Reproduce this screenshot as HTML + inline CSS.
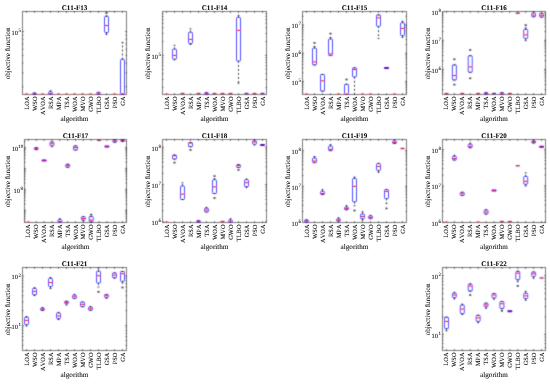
<!DOCTYPE html>
<html><head><meta charset="utf-8"><title>Boxplots</title>
<style>html,body{margin:0;padding:0;background:#fff;width:550px;height:384px;overflow:hidden}svg{display:block}text{font-kerning:none;text-rendering:geometricPrecision;stroke:#000;stroke-width:0.04px}</style>
</head><body><div id="w"><svg width="550" height="384" viewBox="0 0 550 384" font-family='"Liberation Serif", "Times New Roman", serif' fill="#000"><defs><filter id="bl" filterUnits="userSpaceOnUse" x="0" y="0" width="550" height="384"><feConvolveMatrix order="3" kernelMatrix="0.02560 0.10880 0.02560 0.10880 0.46240 0.10880 0.02560 0.10880 0.02560" divisor="1" edgeMode="none"/></filter></defs><rect width="550" height="384" fill="#fff"/><g filter="url(#bl)"><rect x="22.5" y="11.5" width="104" height="83" fill="none" stroke="#7a7a7a" stroke-width="1"/><g stroke="#303030" stroke-width="0.8"><line x1="22.1" y1="86.82" x2="23.4" y2="86.82"/><line x1="126.9" y1="86.82" x2="125.6" y2="86.82"/><line x1="22.1" y1="72.91" x2="23.4" y2="72.91"/><line x1="126.9" y1="72.91" x2="125.6" y2="72.91"/><line x1="22.1" y1="63.04" x2="23.4" y2="63.04"/><line x1="126.9" y1="63.04" x2="125.6" y2="63.04"/><line x1="22.1" y1="55.38" x2="23.4" y2="55.38"/><line x1="126.9" y1="55.38" x2="125.6" y2="55.38"/><line x1="22.1" y1="49.13" x2="23.4" y2="49.13"/><line x1="126.9" y1="49.13" x2="125.6" y2="49.13"/><line x1="22.1" y1="43.84" x2="23.4" y2="43.84"/><line x1="126.9" y1="43.84" x2="125.6" y2="43.84"/><line x1="22.1" y1="39.26" x2="23.4" y2="39.26"/><line x1="126.9" y1="39.26" x2="125.6" y2="39.26"/><line x1="22.1" y1="35.21" x2="23.4" y2="35.21"/><line x1="126.9" y1="35.21" x2="125.6" y2="35.21"/><line x1="22.1" y1="31.6" x2="23.8" y2="31.6"/><line x1="126.9" y1="31.6" x2="125.2" y2="31.6"/><line x1="26.5" y1="94.9" x2="26.5" y2="93.2"/><line x1="26.5" y1="11.1" x2="26.5" y2="12.8"/><line x1="34.5" y1="94.9" x2="34.5" y2="93.2"/><line x1="34.5" y1="11.1" x2="34.5" y2="12.8"/><line x1="42.5" y1="94.9" x2="42.5" y2="93.2"/><line x1="42.5" y1="11.1" x2="42.5" y2="12.8"/><line x1="50.5" y1="94.9" x2="50.5" y2="93.2"/><line x1="50.5" y1="11.1" x2="50.5" y2="12.8"/><line x1="58.5" y1="94.9" x2="58.5" y2="93.2"/><line x1="58.5" y1="11.1" x2="58.5" y2="12.8"/><line x1="66.5" y1="94.9" x2="66.5" y2="93.2"/><line x1="66.5" y1="11.1" x2="66.5" y2="12.8"/><line x1="74.5" y1="94.9" x2="74.5" y2="93.2"/><line x1="74.5" y1="11.1" x2="74.5" y2="12.8"/><line x1="82.5" y1="94.9" x2="82.5" y2="93.2"/><line x1="82.5" y1="11.1" x2="82.5" y2="12.8"/><line x1="90.5" y1="94.9" x2="90.5" y2="93.2"/><line x1="90.5" y1="11.1" x2="90.5" y2="12.8"/><line x1="98.5" y1="94.9" x2="98.5" y2="93.2"/><line x1="98.5" y1="11.1" x2="98.5" y2="12.8"/><line x1="106.5" y1="94.9" x2="106.5" y2="93.2"/><line x1="106.5" y1="11.1" x2="106.5" y2="12.8"/><line x1="114.5" y1="94.9" x2="114.5" y2="93.2"/><line x1="114.5" y1="11.1" x2="114.5" y2="12.8"/><line x1="122.5" y1="94.9" x2="122.5" y2="93.2"/><line x1="122.5" y1="11.1" x2="122.5" y2="12.8"/></g><line x1="24.5" y1="94" x2="28.5" y2="94" stroke="#ff4a5a" stroke-width="0.9"/><rect x="32.5" y="93" width="4" height="1.5" rx="0.8" fill="none" stroke="#0000ff" stroke-width="0.7"/><line x1="32.9" y1="94" x2="36.1" y2="94" stroke="#ff0000" stroke-width="1"/><line x1="33.6" y1="93" x2="35.4" y2="93" stroke="#111" stroke-width="0.8"/><line x1="40.5" y1="94" x2="44.5" y2="94" stroke="#ff4a5a" stroke-width="0.9"/><line x1="50.5" y1="91.8" x2="50.5" y2="90.8" stroke="#000" stroke-dasharray="1.8 2.2" stroke-width="0.8"/><rect x="48.5" y="91.8" width="4" height="2.4" rx="0.8" fill="none" stroke="#0000ff" stroke-width="0.7"/><line x1="48.9" y1="93.5" x2="52.1" y2="93.5" stroke="#ff0000" stroke-width="1"/><line x1="49.6" y1="90.8" x2="51.4" y2="90.8" stroke="#111" stroke-width="0.8"/><line x1="56.5" y1="94" x2="60.5" y2="94" stroke="#ff4a5a" stroke-width="0.9"/><line x1="64.5" y1="94" x2="68.5" y2="94" stroke="#ff4a5a" stroke-width="0.9"/><line x1="72.5" y1="94" x2="76.5" y2="94" stroke="#ff4a5a" stroke-width="0.9"/><line x1="80.5" y1="94" x2="84.5" y2="94" stroke="#ff4a5a" stroke-width="0.9"/><line x1="88.5" y1="94" x2="92.5" y2="94" stroke="#ff4a5a" stroke-width="0.9"/><rect x="96.5" y="92.4" width="4" height="2.1" rx="0.8" fill="none" stroke="#0000ff" stroke-width="0.7"/><line x1="96.9" y1="94" x2="100.1" y2="94" stroke="#ff0000" stroke-width="1"/><line x1="97.6" y1="92.4" x2="99.4" y2="92.4" stroke="#111" stroke-width="0.8"/><line x1="106.5" y1="16.5" x2="106.5" y2="15.8" stroke="#000" stroke-dasharray="1.8 2.2" stroke-width="0.8"/><line x1="106.5" y1="32.5" x2="106.5" y2="34.4" stroke="#000" stroke-dasharray="1.8 2.2" stroke-width="0.8"/><rect x="104.5" y="16.5" width="4" height="16" rx="0.8" fill="none" stroke="#0000ff" stroke-width="0.7"/><line x1="104.9" y1="25.5" x2="108.1" y2="25.5" stroke="#ff0000" stroke-width="1"/><line x1="105.6" y1="15.8" x2="107.4" y2="15.8" stroke="#111" stroke-width="0.8"/><line x1="105.6" y1="34.4" x2="107.4" y2="34.4" stroke="#111" stroke-width="0.8"/><rect x="105.5" y="12.2" width="2" height="1.6" fill="#333"/><line x1="112.5" y1="94" x2="116.5" y2="94" stroke="#ff4a5a" stroke-width="0.9"/><line x1="122.5" y1="59.4" x2="122.5" y2="42.5" stroke="#000" stroke-dasharray="1.8 2.2" stroke-width="0.8"/><rect x="120.5" y="59.4" width="4" height="35.1" rx="0.8" fill="none" stroke="#0000ff" stroke-width="0.7"/><line x1="120.9" y1="94" x2="124.1" y2="94" stroke="#ff0000" stroke-width="1"/><line x1="121.6" y1="42.5" x2="123.4" y2="42.5" stroke="#111" stroke-width="0.8"/><rect x="162.5" y="11.5" width="104" height="83" fill="none" stroke="#7a7a7a" stroke-width="1"/><g stroke="#303030" stroke-width="0.8"><line x1="162.1" y1="87.55" x2="163.4" y2="87.55"/><line x1="266.9" y1="87.55" x2="265.6" y2="87.55"/><line x1="162.1" y1="79.45" x2="163.4" y2="79.45"/><line x1="266.9" y1="79.45" x2="265.6" y2="79.45"/><line x1="162.1" y1="73.71" x2="163.4" y2="73.71"/><line x1="266.9" y1="73.71" x2="265.6" y2="73.71"/><line x1="162.1" y1="69.25" x2="163.4" y2="69.25"/><line x1="266.9" y1="69.25" x2="265.6" y2="69.25"/><line x1="162.1" y1="65.61" x2="163.4" y2="65.61"/><line x1="266.9" y1="65.61" x2="265.6" y2="65.61"/><line x1="162.1" y1="62.53" x2="163.4" y2="62.53"/><line x1="266.9" y1="62.53" x2="265.6" y2="62.53"/><line x1="162.1" y1="59.86" x2="163.4" y2="59.86"/><line x1="266.9" y1="59.86" x2="265.6" y2="59.86"/><line x1="162.1" y1="57.5" x2="163.4" y2="57.5"/><line x1="266.9" y1="57.5" x2="265.6" y2="57.5"/><line x1="162.1" y1="55.4" x2="163.8" y2="55.4"/><line x1="266.9" y1="55.4" x2="265.2" y2="55.4"/><line x1="162.1" y1="41.55" x2="163.4" y2="41.55"/><line x1="266.9" y1="41.55" x2="265.6" y2="41.55"/><line x1="162.1" y1="33.45" x2="163.4" y2="33.45"/><line x1="266.9" y1="33.45" x2="265.6" y2="33.45"/><line x1="162.1" y1="27.71" x2="163.4" y2="27.71"/><line x1="266.9" y1="27.71" x2="265.6" y2="27.71"/><line x1="162.1" y1="23.25" x2="163.4" y2="23.25"/><line x1="266.9" y1="23.25" x2="265.6" y2="23.25"/><line x1="162.1" y1="19.61" x2="163.4" y2="19.61"/><line x1="266.9" y1="19.61" x2="265.6" y2="19.61"/><line x1="162.1" y1="16.53" x2="163.4" y2="16.53"/><line x1="266.9" y1="16.53" x2="265.6" y2="16.53"/><line x1="162.1" y1="13.86" x2="163.4" y2="13.86"/><line x1="266.9" y1="13.86" x2="265.6" y2="13.86"/><line x1="166.5" y1="94.9" x2="166.5" y2="93.2"/><line x1="166.5" y1="11.1" x2="166.5" y2="12.8"/><line x1="174.5" y1="94.9" x2="174.5" y2="93.2"/><line x1="174.5" y1="11.1" x2="174.5" y2="12.8"/><line x1="182.5" y1="94.9" x2="182.5" y2="93.2"/><line x1="182.5" y1="11.1" x2="182.5" y2="12.8"/><line x1="190.5" y1="94.9" x2="190.5" y2="93.2"/><line x1="190.5" y1="11.1" x2="190.5" y2="12.8"/><line x1="198.5" y1="94.9" x2="198.5" y2="93.2"/><line x1="198.5" y1="11.1" x2="198.5" y2="12.8"/><line x1="206.5" y1="94.9" x2="206.5" y2="93.2"/><line x1="206.5" y1="11.1" x2="206.5" y2="12.8"/><line x1="214.5" y1="94.9" x2="214.5" y2="93.2"/><line x1="214.5" y1="11.1" x2="214.5" y2="12.8"/><line x1="222.5" y1="94.9" x2="222.5" y2="93.2"/><line x1="222.5" y1="11.1" x2="222.5" y2="12.8"/><line x1="230.5" y1="94.9" x2="230.5" y2="93.2"/><line x1="230.5" y1="11.1" x2="230.5" y2="12.8"/><line x1="238.5" y1="94.9" x2="238.5" y2="93.2"/><line x1="238.5" y1="11.1" x2="238.5" y2="12.8"/><line x1="246.5" y1="94.9" x2="246.5" y2="93.2"/><line x1="246.5" y1="11.1" x2="246.5" y2="12.8"/><line x1="254.5" y1="94.9" x2="254.5" y2="93.2"/><line x1="254.5" y1="11.1" x2="254.5" y2="12.8"/><line x1="262.5" y1="94.9" x2="262.5" y2="93.2"/><line x1="262.5" y1="11.1" x2="262.5" y2="12.8"/></g><line x1="164.5" y1="94" x2="168.5" y2="94" stroke="#ff4a5a" stroke-width="0.9"/><line x1="174.5" y1="49.2" x2="174.5" y2="45.4" stroke="#000" stroke-dasharray="1.8 2.2" stroke-width="0.8"/><line x1="174.5" y1="59.1" x2="174.5" y2="59.8" stroke="#000" stroke-dasharray="1.8 2.2" stroke-width="0.8"/><rect x="172.5" y="49.2" width="4" height="9.9" rx="0.8" fill="none" stroke="#0000ff" stroke-width="0.7"/><line x1="172.9" y1="55.4" x2="176.1" y2="55.4" stroke="#ff0000" stroke-width="1"/><line x1="173.6" y1="45.4" x2="175.4" y2="45.4" stroke="#111" stroke-width="0.8"/><line x1="173.6" y1="59.8" x2="175.4" y2="59.8" stroke="#111" stroke-width="0.8"/><line x1="180.5" y1="93.5" x2="184.5" y2="93.5" stroke="#c8124e" stroke-width="1.2"/><line x1="190.5" y1="32.3" x2="190.5" y2="28.9" stroke="#000" stroke-dasharray="1.8 2.2" stroke-width="0.8"/><line x1="190.5" y1="43.4" x2="190.5" y2="44.5" stroke="#000" stroke-dasharray="1.8 2.2" stroke-width="0.8"/><rect x="188.5" y="32.3" width="4" height="11.1" rx="0.8" fill="none" stroke="#0000ff" stroke-width="0.7"/><line x1="188.9" y1="39.4" x2="192.1" y2="39.4" stroke="#ff0000" stroke-width="1"/><line x1="189.6" y1="28.9" x2="191.4" y2="28.9" stroke="#111" stroke-width="0.8"/><line x1="189.6" y1="44.5" x2="191.4" y2="44.5" stroke="#111" stroke-width="0.8"/><line x1="196.5" y1="93.5" x2="200.5" y2="93.5" stroke="#c8124e" stroke-width="1.2"/><rect x="204.5" y="92.6" width="4" height="1.9" rx="0.8" fill="none" stroke="#0000ff" stroke-width="0.7"/><line x1="204.9" y1="93.8" x2="208.1" y2="93.8" stroke="#ff0000" stroke-width="1"/><line x1="205.6" y1="92.6" x2="207.4" y2="92.6" stroke="#111" stroke-width="0.8"/><line x1="212.5" y1="93.5" x2="216.5" y2="93.5" stroke="#c8124e" stroke-width="1.2"/><line x1="220.5" y1="93.5" x2="224.5" y2="93.5" stroke="#c8124e" stroke-width="1.2"/><line x1="228.5" y1="93.5" x2="232.5" y2="93.5" stroke="#c8124e" stroke-width="1.2"/><line x1="238.5" y1="17.4" x2="238.5" y2="15.3" stroke="#000" stroke-dasharray="1.8 2.2" stroke-width="0.8"/><line x1="238.5" y1="61" x2="238.5" y2="83.2" stroke="#000" stroke-dasharray="1.8 2.2" stroke-width="0.8"/><rect x="236.5" y="17.4" width="4" height="43.6" rx="0.8" fill="none" stroke="#0000ff" stroke-width="0.7"/><line x1="236.9" y1="30.4" x2="240.1" y2="30.4" stroke="#ff0000" stroke-width="1"/><line x1="237.6" y1="15.3" x2="239.4" y2="15.3" stroke="#111" stroke-width="0.8"/><line x1="237.6" y1="83.2" x2="239.4" y2="83.2" stroke="#111" stroke-width="0.8"/><line x1="244.5" y1="93.5" x2="248.5" y2="93.5" stroke="#741a86" stroke-width="1.3"/><line x1="252.5" y1="93.5" x2="256.5" y2="93.5" stroke="#c8124e" stroke-width="1.2"/><line x1="260.5" y1="93.5" x2="264.5" y2="93.5" stroke="#741a86" stroke-width="1.3"/><rect x="302.5" y="11.5" width="104" height="83" fill="none" stroke="#7a7a7a" stroke-width="1"/><g stroke="#303030" stroke-width="0.8"><line x1="302.1" y1="92.66" x2="303.4" y2="92.66"/><line x1="406.9" y1="92.66" x2="405.6" y2="92.66"/><line x1="302.1" y1="89.92" x2="303.4" y2="89.92"/><line x1="406.9" y1="89.92" x2="405.6" y2="89.92"/><line x1="302.1" y1="87.68" x2="303.4" y2="87.68"/><line x1="406.9" y1="87.68" x2="405.6" y2="87.68"/><line x1="302.1" y1="85.78" x2="303.4" y2="85.78"/><line x1="406.9" y1="85.78" x2="405.6" y2="85.78"/><line x1="302.1" y1="84.14" x2="303.4" y2="84.14"/><line x1="406.9" y1="84.14" x2="405.6" y2="84.14"/><line x1="302.1" y1="82.69" x2="303.4" y2="82.69"/><line x1="406.9" y1="82.69" x2="405.6" y2="82.69"/><line x1="302.1" y1="81.4" x2="303.8" y2="81.4"/><line x1="406.9" y1="81.4" x2="405.2" y2="81.4"/><line x1="302.1" y1="72.88" x2="303.4" y2="72.88"/><line x1="406.9" y1="72.88" x2="405.6" y2="72.88"/><line x1="302.1" y1="67.9" x2="303.4" y2="67.9"/><line x1="406.9" y1="67.9" x2="405.6" y2="67.9"/><line x1="302.1" y1="64.36" x2="303.4" y2="64.36"/><line x1="406.9" y1="64.36" x2="405.6" y2="64.36"/><line x1="302.1" y1="61.62" x2="303.4" y2="61.62"/><line x1="406.9" y1="61.62" x2="405.6" y2="61.62"/><line x1="302.1" y1="59.38" x2="303.4" y2="59.38"/><line x1="406.9" y1="59.38" x2="405.6" y2="59.38"/><line x1="302.1" y1="57.48" x2="303.4" y2="57.48"/><line x1="406.9" y1="57.48" x2="405.6" y2="57.48"/><line x1="302.1" y1="55.84" x2="303.4" y2="55.84"/><line x1="406.9" y1="55.84" x2="405.6" y2="55.84"/><line x1="302.1" y1="54.39" x2="303.4" y2="54.39"/><line x1="406.9" y1="54.39" x2="405.6" y2="54.39"/><line x1="302.1" y1="53.1" x2="303.8" y2="53.1"/><line x1="406.9" y1="53.1" x2="405.2" y2="53.1"/><line x1="302.1" y1="44.58" x2="303.4" y2="44.58"/><line x1="406.9" y1="44.58" x2="405.6" y2="44.58"/><line x1="302.1" y1="39.6" x2="303.4" y2="39.6"/><line x1="406.9" y1="39.6" x2="405.6" y2="39.6"/><line x1="302.1" y1="36.06" x2="303.4" y2="36.06"/><line x1="406.9" y1="36.06" x2="405.6" y2="36.06"/><line x1="302.1" y1="33.32" x2="303.4" y2="33.32"/><line x1="406.9" y1="33.32" x2="405.6" y2="33.32"/><line x1="302.1" y1="31.08" x2="303.4" y2="31.08"/><line x1="406.9" y1="31.08" x2="405.6" y2="31.08"/><line x1="302.1" y1="29.18" x2="303.4" y2="29.18"/><line x1="406.9" y1="29.18" x2="405.6" y2="29.18"/><line x1="302.1" y1="27.54" x2="303.4" y2="27.54"/><line x1="406.9" y1="27.54" x2="405.6" y2="27.54"/><line x1="302.1" y1="26.09" x2="303.4" y2="26.09"/><line x1="406.9" y1="26.09" x2="405.6" y2="26.09"/><line x1="302.1" y1="24.8" x2="303.8" y2="24.8"/><line x1="406.9" y1="24.8" x2="405.2" y2="24.8"/><line x1="302.1" y1="16.28" x2="303.4" y2="16.28"/><line x1="406.9" y1="16.28" x2="405.6" y2="16.28"/><line x1="306.5" y1="94.9" x2="306.5" y2="93.2"/><line x1="306.5" y1="11.1" x2="306.5" y2="12.8"/><line x1="314.5" y1="94.9" x2="314.5" y2="93.2"/><line x1="314.5" y1="11.1" x2="314.5" y2="12.8"/><line x1="322.5" y1="94.9" x2="322.5" y2="93.2"/><line x1="322.5" y1="11.1" x2="322.5" y2="12.8"/><line x1="330.5" y1="94.9" x2="330.5" y2="93.2"/><line x1="330.5" y1="11.1" x2="330.5" y2="12.8"/><line x1="338.5" y1="94.9" x2="338.5" y2="93.2"/><line x1="338.5" y1="11.1" x2="338.5" y2="12.8"/><line x1="346.5" y1="94.9" x2="346.5" y2="93.2"/><line x1="346.5" y1="11.1" x2="346.5" y2="12.8"/><line x1="354.5" y1="94.9" x2="354.5" y2="93.2"/><line x1="354.5" y1="11.1" x2="354.5" y2="12.8"/><line x1="362.5" y1="94.9" x2="362.5" y2="93.2"/><line x1="362.5" y1="11.1" x2="362.5" y2="12.8"/><line x1="370.5" y1="94.9" x2="370.5" y2="93.2"/><line x1="370.5" y1="11.1" x2="370.5" y2="12.8"/><line x1="378.5" y1="94.9" x2="378.5" y2="93.2"/><line x1="378.5" y1="11.1" x2="378.5" y2="12.8"/><line x1="386.5" y1="94.9" x2="386.5" y2="93.2"/><line x1="386.5" y1="11.1" x2="386.5" y2="12.8"/><line x1="394.5" y1="94.9" x2="394.5" y2="93.2"/><line x1="394.5" y1="11.1" x2="394.5" y2="12.8"/><line x1="402.5" y1="94.9" x2="402.5" y2="93.2"/><line x1="402.5" y1="11.1" x2="402.5" y2="12.8"/></g><line x1="304.5" y1="94" x2="308.5" y2="94" stroke="#ff4a5a" stroke-width="0.9"/><line x1="314.5" y1="48.2" x2="314.5" y2="46.5" stroke="#000" stroke-dasharray="1.8 2.2" stroke-width="0.8"/><rect x="312.5" y="48.2" width="4" height="16.7" rx="0.8" fill="none" stroke="#0000ff" stroke-width="0.7"/><line x1="312.9" y1="61.9" x2="316.1" y2="61.9" stroke="#ff0000" stroke-width="1"/><line x1="313.6" y1="46.5" x2="315.4" y2="46.5" stroke="#111" stroke-width="0.8"/><line x1="313.6" y1="64.9" x2="315.4" y2="64.9" stroke="#111" stroke-width="0.8"/><rect x="313.5" y="42.1" width="2" height="1.6" fill="#333"/><rect x="320.5" y="74.5" width="4" height="16.7" rx="0.8" fill="none" stroke="#0000ff" stroke-width="0.7"/><line x1="320.9" y1="80.8" x2="324.1" y2="80.8" stroke="#ff0000" stroke-width="1"/><line x1="321.6" y1="74.5" x2="323.4" y2="74.5" stroke="#111" stroke-width="0.8"/><line x1="321.6" y1="91.2" x2="323.4" y2="91.2" stroke="#111" stroke-width="0.8"/><line x1="330.5" y1="39.1" x2="330.5" y2="37.5" stroke="#000" stroke-dasharray="1.8 2.2" stroke-width="0.8"/><rect x="328.5" y="39.1" width="4" height="16.4" rx="0.8" fill="none" stroke="#0000ff" stroke-width="0.7"/><line x1="328.9" y1="53.9" x2="332.1" y2="53.9" stroke="#ff0000" stroke-width="1"/><line x1="329.6" y1="37.5" x2="331.4" y2="37.5" stroke="#111" stroke-width="0.8"/><line x1="329.6" y1="55.5" x2="331.4" y2="55.5" stroke="#111" stroke-width="0.8"/><rect x="329.5" y="32.8" width="2" height="1.6" fill="#333"/><line x1="336.5" y1="94" x2="340.5" y2="94" stroke="#ff4a5a" stroke-width="0.9"/><rect x="344.5" y="84.3" width="4" height="10.2" rx="0.8" fill="none" stroke="#0000ff" stroke-width="0.7"/><line x1="344.9" y1="94.3" x2="348.1" y2="94.3" stroke="#ff0000" stroke-width="1"/><line x1="345.6" y1="84.3" x2="347.4" y2="84.3" stroke="#111" stroke-width="0.8"/><rect x="345.5" y="78.7" width="2" height="1.6" fill="#333"/><line x1="354.5" y1="76.9" x2="354.5" y2="94.5" stroke="#000" stroke-dasharray="1.8 2.2" stroke-width="0.8"/><rect x="352.5" y="67.8" width="4" height="9.1" rx="0.8" fill="none" stroke="#0000ff" stroke-width="0.7"/><line x1="352.9" y1="69.5" x2="356.1" y2="69.5" stroke="#ff0000" stroke-width="1"/><line x1="353.6" y1="67.8" x2="355.4" y2="67.8" stroke="#111" stroke-width="0.8"/><line x1="360.5" y1="94" x2="364.5" y2="94" stroke="#ff4a5a" stroke-width="0.9"/><line x1="368.5" y1="94" x2="372.5" y2="94" stroke="#ff4a5a" stroke-width="0.9"/><line x1="378.5" y1="26.3" x2="378.5" y2="38.4" stroke="#000" stroke-dasharray="1.8 2.2" stroke-width="0.8"/><rect x="376.5" y="14.9" width="4" height="11.4" rx="0.8" fill="none" stroke="#0000ff" stroke-width="0.7"/><line x1="376.9" y1="17.9" x2="380.1" y2="17.9" stroke="#ff0000" stroke-width="1"/><line x1="377.6" y1="14.9" x2="379.4" y2="14.9" stroke="#111" stroke-width="0.8"/><line x1="377.6" y1="38.4" x2="379.4" y2="38.4" stroke="#111" stroke-width="0.8"/><rect x="384" y="67" width="5" height="2" rx="1" fill="#0000ff"/><line x1="385" y1="68" x2="388" y2="68" stroke="#ff0000" stroke-width="1"/><line x1="392.5" y1="94" x2="396.5" y2="94" stroke="#ff4a5a" stroke-width="0.9"/><line x1="402.5" y1="22.9" x2="402.5" y2="21.3" stroke="#000" stroke-dasharray="1.8 2.2" stroke-width="0.8"/><line x1="402.5" y1="35.5" x2="402.5" y2="37.4" stroke="#000" stroke-dasharray="1.8 2.2" stroke-width="0.8"/><rect x="400.5" y="22.9" width="4" height="12.6" rx="0.8" fill="none" stroke="#0000ff" stroke-width="0.7"/><line x1="400.9" y1="28.4" x2="404.1" y2="28.4" stroke="#ff0000" stroke-width="1"/><line x1="401.6" y1="21.3" x2="403.4" y2="21.3" stroke="#111" stroke-width="0.8"/><line x1="401.6" y1="37.4" x2="403.4" y2="37.4" stroke="#111" stroke-width="0.8"/><rect x="442.5" y="11.5" width="103" height="83" fill="none" stroke="#7a7a7a" stroke-width="1"/><g stroke="#303030" stroke-width="0.8"><line x1="442.1" y1="89.74" x2="443.4" y2="89.74"/><line x1="545.9" y1="89.74" x2="544.6" y2="89.74"/><line x1="442.1" y1="84.62" x2="443.4" y2="84.62"/><line x1="545.9" y1="84.62" x2="544.6" y2="84.62"/><line x1="442.1" y1="80.98" x2="443.4" y2="80.98"/><line x1="545.9" y1="80.98" x2="544.6" y2="80.98"/><line x1="442.1" y1="78.16" x2="443.4" y2="78.16"/><line x1="545.9" y1="78.16" x2="544.6" y2="78.16"/><line x1="442.1" y1="75.86" x2="443.4" y2="75.86"/><line x1="545.9" y1="75.86" x2="544.6" y2="75.86"/><line x1="442.1" y1="73.91" x2="443.4" y2="73.91"/><line x1="545.9" y1="73.91" x2="544.6" y2="73.91"/><line x1="442.1" y1="72.22" x2="443.4" y2="72.22"/><line x1="545.9" y1="72.22" x2="544.6" y2="72.22"/><line x1="442.1" y1="70.73" x2="443.4" y2="70.73"/><line x1="545.9" y1="70.73" x2="544.6" y2="70.73"/><line x1="442.1" y1="69.4" x2="443.8" y2="69.4"/><line x1="545.9" y1="69.4" x2="544.2" y2="69.4"/><line x1="442.1" y1="60.64" x2="443.4" y2="60.64"/><line x1="545.9" y1="60.64" x2="544.6" y2="60.64"/><line x1="442.1" y1="55.52" x2="443.4" y2="55.52"/><line x1="545.9" y1="55.52" x2="544.6" y2="55.52"/><line x1="442.1" y1="51.88" x2="443.4" y2="51.88"/><line x1="545.9" y1="51.88" x2="544.6" y2="51.88"/><line x1="442.1" y1="49.06" x2="443.4" y2="49.06"/><line x1="545.9" y1="49.06" x2="544.6" y2="49.06"/><line x1="442.1" y1="46.76" x2="443.4" y2="46.76"/><line x1="545.9" y1="46.76" x2="544.6" y2="46.76"/><line x1="442.1" y1="44.81" x2="443.4" y2="44.81"/><line x1="545.9" y1="44.81" x2="544.6" y2="44.81"/><line x1="442.1" y1="43.12" x2="443.4" y2="43.12"/><line x1="545.9" y1="43.12" x2="544.6" y2="43.12"/><line x1="442.1" y1="41.63" x2="443.4" y2="41.63"/><line x1="545.9" y1="41.63" x2="544.6" y2="41.63"/><line x1="442.1" y1="40.3" x2="443.8" y2="40.3"/><line x1="545.9" y1="40.3" x2="544.2" y2="40.3"/><line x1="442.1" y1="31.54" x2="443.4" y2="31.54"/><line x1="545.9" y1="31.54" x2="544.6" y2="31.54"/><line x1="442.1" y1="26.42" x2="443.4" y2="26.42"/><line x1="545.9" y1="26.42" x2="544.6" y2="26.42"/><line x1="442.1" y1="22.78" x2="443.4" y2="22.78"/><line x1="545.9" y1="22.78" x2="544.6" y2="22.78"/><line x1="442.1" y1="19.96" x2="443.4" y2="19.96"/><line x1="545.9" y1="19.96" x2="544.6" y2="19.96"/><line x1="442.1" y1="17.66" x2="443.4" y2="17.66"/><line x1="545.9" y1="17.66" x2="544.6" y2="17.66"/><line x1="442.1" y1="15.71" x2="443.4" y2="15.71"/><line x1="545.9" y1="15.71" x2="544.6" y2="15.71"/><line x1="442.1" y1="14.02" x2="443.4" y2="14.02"/><line x1="545.9" y1="14.02" x2="544.6" y2="14.02"/><line x1="442.1" y1="12.53" x2="443.4" y2="12.53"/><line x1="545.9" y1="12.53" x2="544.6" y2="12.53"/><line x1="446.46" y1="94.9" x2="446.46" y2="93.2"/><line x1="446.46" y1="11.1" x2="446.46" y2="12.8"/><line x1="454.38" y1="94.9" x2="454.38" y2="93.2"/><line x1="454.38" y1="11.1" x2="454.38" y2="12.8"/><line x1="462.31" y1="94.9" x2="462.31" y2="93.2"/><line x1="462.31" y1="11.1" x2="462.31" y2="12.8"/><line x1="470.23" y1="94.9" x2="470.23" y2="93.2"/><line x1="470.23" y1="11.1" x2="470.23" y2="12.8"/><line x1="478.15" y1="94.9" x2="478.15" y2="93.2"/><line x1="478.15" y1="11.1" x2="478.15" y2="12.8"/><line x1="486.08" y1="94.9" x2="486.08" y2="93.2"/><line x1="486.08" y1="11.1" x2="486.08" y2="12.8"/><line x1="494" y1="94.9" x2="494" y2="93.2"/><line x1="494" y1="11.1" x2="494" y2="12.8"/><line x1="501.92" y1="94.9" x2="501.92" y2="93.2"/><line x1="501.92" y1="11.1" x2="501.92" y2="12.8"/><line x1="509.85" y1="94.9" x2="509.85" y2="93.2"/><line x1="509.85" y1="11.1" x2="509.85" y2="12.8"/><line x1="517.77" y1="94.9" x2="517.77" y2="93.2"/><line x1="517.77" y1="11.1" x2="517.77" y2="12.8"/><line x1="525.69" y1="94.9" x2="525.69" y2="93.2"/><line x1="525.69" y1="11.1" x2="525.69" y2="12.8"/><line x1="533.62" y1="94.9" x2="533.62" y2="93.2"/><line x1="533.62" y1="11.1" x2="533.62" y2="12.8"/><line x1="541.54" y1="94.9" x2="541.54" y2="93.2"/><line x1="541.54" y1="11.1" x2="541.54" y2="12.8"/></g><line x1="444.46" y1="93.5" x2="448.46" y2="93.5" stroke="#c8124e" stroke-width="1.2"/><rect x="452.38" y="64.9" width="4" height="15.1" rx="0.8" fill="none" stroke="#0000ff" stroke-width="0.7"/><line x1="452.78" y1="75.5" x2="455.98" y2="75.5" stroke="#ff0000" stroke-width="1"/><line x1="453.48" y1="64.9" x2="455.28" y2="64.9" stroke="#111" stroke-width="0.8"/><line x1="453.48" y1="80" x2="455.28" y2="80" stroke="#111" stroke-width="0.8"/><rect x="453.38" y="58.5" width="2" height="1.6" fill="#333"/><rect x="453.38" y="83.8" width="2" height="1.6" fill="#333"/><line x1="460.31" y1="93.5" x2="464.31" y2="93.5" stroke="#c8124e" stroke-width="1.2"/><rect x="468.23" y="55.7" width="4" height="16.6" rx="0.8" fill="none" stroke="#0000ff" stroke-width="0.7"/><line x1="468.63" y1="66.9" x2="471.83" y2="66.9" stroke="#ff0000" stroke-width="1"/><line x1="469.33" y1="55.7" x2="471.13" y2="55.7" stroke="#111" stroke-width="0.8"/><line x1="469.33" y1="72.3" x2="471.13" y2="72.3" stroke="#111" stroke-width="0.8"/><rect x="469.23" y="49.2" width="2" height="1.6" fill="#333"/><rect x="469.23" y="77.5" width="2" height="1.6" fill="#333"/><line x1="476.15" y1="93.5" x2="480.15" y2="93.5" stroke="#c8124e" stroke-width="1.2"/><rect x="484.08" y="92.6" width="4" height="1.6" rx="0.8" fill="none" stroke="#0000ff" stroke-width="0.7"/><line x1="484.48" y1="93.6" x2="487.68" y2="93.6" stroke="#ff0000" stroke-width="1"/><line x1="485.18" y1="92.6" x2="486.98" y2="92.6" stroke="#111" stroke-width="0.8"/><line x1="492" y1="93.5" x2="496" y2="93.5" stroke="#741a86" stroke-width="1.3"/><rect x="499.92" y="92.6" width="4" height="1.9" rx="0.8" fill="none" stroke="#0000ff" stroke-width="0.7"/><line x1="500.32" y1="94" x2="503.52" y2="94" stroke="#ff0000" stroke-width="1"/><line x1="501.02" y1="92.6" x2="502.82" y2="92.6" stroke="#111" stroke-width="0.8"/><line x1="507.85" y1="93.5" x2="511.85" y2="93.5" stroke="#c8124e" stroke-width="1.2"/><line x1="515.77" y1="13.2" x2="519.77" y2="13.2" stroke="#a8185e" stroke-width="1.3"/><line x1="525.69" y1="29.4" x2="525.69" y2="27.9" stroke="#000" stroke-dasharray="1.8 2.2" stroke-width="0.8"/><line x1="525.69" y1="38.4" x2="525.69" y2="40.7" stroke="#000" stroke-dasharray="1.8 2.2" stroke-width="0.8"/><rect x="523.69" y="29.4" width="4" height="9" rx="0.8" fill="none" stroke="#0000ff" stroke-width="0.7"/><line x1="524.09" y1="34.9" x2="527.29" y2="34.9" stroke="#ff0000" stroke-width="1"/><line x1="524.79" y1="27.9" x2="526.59" y2="27.9" stroke="#111" stroke-width="0.8"/><line x1="524.79" y1="40.7" x2="526.59" y2="40.7" stroke="#111" stroke-width="0.8"/><rect x="524.69" y="24.4" width="2" height="1.6" fill="#333"/><line x1="533.62" y1="13" x2="533.62" y2="11.8" stroke="#000" stroke-dasharray="1.8 2.2" stroke-width="0.8"/><rect x="531.62" y="13" width="4" height="3.7" rx="0.8" fill="none" stroke="#0000ff" stroke-width="0.7"/><line x1="532.02" y1="15" x2="535.22" y2="15" stroke="#ff0000" stroke-width="1"/><line x1="532.72" y1="11.8" x2="534.52" y2="11.8" stroke="#111" stroke-width="0.8"/><line x1="532.72" y1="16.7" x2="534.52" y2="16.7" stroke="#111" stroke-width="0.8"/><rect x="539.54" y="13.4" width="4" height="3.7" rx="0.8" fill="none" stroke="#0000ff" stroke-width="0.7"/><line x1="539.94" y1="15.3" x2="543.14" y2="15.3" stroke="#ff0000" stroke-width="1"/><line x1="540.64" y1="13.4" x2="542.44" y2="13.4" stroke="#111" stroke-width="0.8"/><line x1="540.64" y1="17.1" x2="542.44" y2="17.1" stroke="#111" stroke-width="0.8"/><rect x="24.5" y="139.5" width="102" height="83" fill="none" stroke="#7a7a7a" stroke-width="1"/><g stroke="#303030" stroke-width="0.8"><line x1="24.1" y1="221.13" x2="25.4" y2="221.13"/><line x1="126.9" y1="221.13" x2="125.6" y2="221.13"/><line x1="24.1" y1="218.52" x2="25.4" y2="218.52"/><line x1="126.9" y1="218.52" x2="125.6" y2="218.52"/><line x1="24.1" y1="216.49" x2="25.4" y2="216.49"/><line x1="126.9" y1="216.49" x2="125.6" y2="216.49"/><line x1="24.1" y1="214.84" x2="25.4" y2="214.84"/><line x1="126.9" y1="214.84" x2="125.6" y2="214.84"/><line x1="24.1" y1="213.44" x2="25.4" y2="213.44"/><line x1="126.9" y1="213.44" x2="125.6" y2="213.44"/><line x1="24.1" y1="212.23" x2="25.4" y2="212.23"/><line x1="126.9" y1="212.23" x2="125.6" y2="212.23"/><line x1="24.1" y1="211.16" x2="25.4" y2="211.16"/><line x1="126.9" y1="211.16" x2="125.6" y2="211.16"/><line x1="24.1" y1="210.2" x2="25.8" y2="210.2"/><line x1="126.9" y1="210.2" x2="125.2" y2="210.2"/><line x1="24.1" y1="203.91" x2="25.4" y2="203.91"/><line x1="126.9" y1="203.91" x2="125.6" y2="203.91"/><line x1="24.1" y1="200.23" x2="25.4" y2="200.23"/><line x1="126.9" y1="200.23" x2="125.6" y2="200.23"/><line x1="24.1" y1="197.62" x2="25.4" y2="197.62"/><line x1="126.9" y1="197.62" x2="125.6" y2="197.62"/><line x1="24.1" y1="195.59" x2="25.4" y2="195.59"/><line x1="126.9" y1="195.59" x2="125.6" y2="195.59"/><line x1="24.1" y1="193.94" x2="25.4" y2="193.94"/><line x1="126.9" y1="193.94" x2="125.6" y2="193.94"/><line x1="24.1" y1="192.54" x2="25.4" y2="192.54"/><line x1="126.9" y1="192.54" x2="125.6" y2="192.54"/><line x1="24.1" y1="191.33" x2="25.4" y2="191.33"/><line x1="126.9" y1="191.33" x2="125.6" y2="191.33"/><line x1="24.1" y1="190.26" x2="25.4" y2="190.26"/><line x1="126.9" y1="190.26" x2="125.6" y2="190.26"/><line x1="24.1" y1="189.3" x2="25.8" y2="189.3"/><line x1="126.9" y1="189.3" x2="125.2" y2="189.3"/><line x1="24.1" y1="183.01" x2="25.4" y2="183.01"/><line x1="126.9" y1="183.01" x2="125.6" y2="183.01"/><line x1="24.1" y1="179.33" x2="25.4" y2="179.33"/><line x1="126.9" y1="179.33" x2="125.6" y2="179.33"/><line x1="24.1" y1="176.72" x2="25.4" y2="176.72"/><line x1="126.9" y1="176.72" x2="125.6" y2="176.72"/><line x1="24.1" y1="174.69" x2="25.4" y2="174.69"/><line x1="126.9" y1="174.69" x2="125.6" y2="174.69"/><line x1="24.1" y1="173.04" x2="25.4" y2="173.04"/><line x1="126.9" y1="173.04" x2="125.6" y2="173.04"/><line x1="24.1" y1="171.64" x2="25.4" y2="171.64"/><line x1="126.9" y1="171.64" x2="125.6" y2="171.64"/><line x1="24.1" y1="170.43" x2="25.4" y2="170.43"/><line x1="126.9" y1="170.43" x2="125.6" y2="170.43"/><line x1="24.1" y1="169.36" x2="25.4" y2="169.36"/><line x1="126.9" y1="169.36" x2="125.6" y2="169.36"/><line x1="24.1" y1="168.4" x2="25.8" y2="168.4"/><line x1="126.9" y1="168.4" x2="125.2" y2="168.4"/><line x1="24.1" y1="162.11" x2="25.4" y2="162.11"/><line x1="126.9" y1="162.11" x2="125.6" y2="162.11"/><line x1="24.1" y1="158.43" x2="25.4" y2="158.43"/><line x1="126.9" y1="158.43" x2="125.6" y2="158.43"/><line x1="24.1" y1="155.82" x2="25.4" y2="155.82"/><line x1="126.9" y1="155.82" x2="125.6" y2="155.82"/><line x1="24.1" y1="153.79" x2="25.4" y2="153.79"/><line x1="126.9" y1="153.79" x2="125.6" y2="153.79"/><line x1="24.1" y1="152.14" x2="25.4" y2="152.14"/><line x1="126.9" y1="152.14" x2="125.6" y2="152.14"/><line x1="24.1" y1="150.74" x2="25.4" y2="150.74"/><line x1="126.9" y1="150.74" x2="125.6" y2="150.74"/><line x1="24.1" y1="149.53" x2="25.4" y2="149.53"/><line x1="126.9" y1="149.53" x2="125.6" y2="149.53"/><line x1="24.1" y1="148.46" x2="25.4" y2="148.46"/><line x1="126.9" y1="148.46" x2="125.6" y2="148.46"/><line x1="24.1" y1="147.5" x2="25.8" y2="147.5"/><line x1="126.9" y1="147.5" x2="125.2" y2="147.5"/><line x1="24.1" y1="141.21" x2="25.4" y2="141.21"/><line x1="126.9" y1="141.21" x2="125.6" y2="141.21"/><line x1="28.42" y1="222.9" x2="28.42" y2="221.2"/><line x1="28.42" y1="139.1" x2="28.42" y2="140.8"/><line x1="36.27" y1="222.9" x2="36.27" y2="221.2"/><line x1="36.27" y1="139.1" x2="36.27" y2="140.8"/><line x1="44.12" y1="222.9" x2="44.12" y2="221.2"/><line x1="44.12" y1="139.1" x2="44.12" y2="140.8"/><line x1="51.96" y1="222.9" x2="51.96" y2="221.2"/><line x1="51.96" y1="139.1" x2="51.96" y2="140.8"/><line x1="59.81" y1="222.9" x2="59.81" y2="221.2"/><line x1="59.81" y1="139.1" x2="59.81" y2="140.8"/><line x1="67.65" y1="222.9" x2="67.65" y2="221.2"/><line x1="67.65" y1="139.1" x2="67.65" y2="140.8"/><line x1="75.5" y1="222.9" x2="75.5" y2="221.2"/><line x1="75.5" y1="139.1" x2="75.5" y2="140.8"/><line x1="83.35" y1="222.9" x2="83.35" y2="221.2"/><line x1="83.35" y1="139.1" x2="83.35" y2="140.8"/><line x1="91.19" y1="222.9" x2="91.19" y2="221.2"/><line x1="91.19" y1="139.1" x2="91.19" y2="140.8"/><line x1="99.04" y1="222.9" x2="99.04" y2="221.2"/><line x1="99.04" y1="139.1" x2="99.04" y2="140.8"/><line x1="106.88" y1="222.9" x2="106.88" y2="221.2"/><line x1="106.88" y1="139.1" x2="106.88" y2="140.8"/><line x1="114.73" y1="222.9" x2="114.73" y2="221.2"/><line x1="114.73" y1="139.1" x2="114.73" y2="140.8"/><line x1="122.58" y1="222.9" x2="122.58" y2="221.2"/><line x1="122.58" y1="139.1" x2="122.58" y2="140.8"/></g><line x1="26.42" y1="222" x2="30.42" y2="222" stroke="#ff4a5a" stroke-width="0.9"/><rect x="34.27" y="147.6" width="4" height="2" rx="0.8" fill="none" stroke="#0000ff" stroke-width="0.7"/><line x1="34.67" y1="148.6" x2="37.87" y2="148.6" stroke="#ff0000" stroke-width="1"/><line x1="35.37" y1="147.6" x2="37.17" y2="147.6" stroke="#111" stroke-width="0.8"/><line x1="35.37" y1="149.6" x2="37.17" y2="149.6" stroke="#111" stroke-width="0.8"/><rect x="41.62" y="159.4" width="5" height="2" rx="1" fill="#0000ff"/><line x1="42.62" y1="160.4" x2="45.62" y2="160.4" stroke="#ff0000" stroke-width="1"/><line x1="51.96" y1="145.9" x2="51.96" y2="146.6" stroke="#000" stroke-dasharray="1.8 2.2" stroke-width="0.8"/><rect x="49.96" y="142" width="4" height="3.9" rx="0.8" fill="none" stroke="#0000ff" stroke-width="0.7"/><line x1="50.36" y1="143.8" x2="53.56" y2="143.8" stroke="#ff0000" stroke-width="1"/><line x1="51.06" y1="142" x2="52.86" y2="142" stroke="#111" stroke-width="0.8"/><line x1="51.06" y1="146.6" x2="52.86" y2="146.6" stroke="#111" stroke-width="0.8"/><line x1="59.81" y1="219.7" x2="59.81" y2="218.8" stroke="#000" stroke-dasharray="1.8 2.2" stroke-width="0.8"/><rect x="57.81" y="219.7" width="4" height="2.6" rx="0.8" fill="none" stroke="#0000ff" stroke-width="0.7"/><line x1="58.21" y1="221.5" x2="61.41" y2="221.5" stroke="#ff0000" stroke-width="1"/><line x1="58.91" y1="218.8" x2="60.71" y2="218.8" stroke="#111" stroke-width="0.8"/><rect x="65.65" y="164.3" width="4" height="3" rx="0.8" fill="none" stroke="#0000ff" stroke-width="0.7"/><line x1="66.05" y1="165.7" x2="69.25" y2="165.7" stroke="#ff0000" stroke-width="1"/><line x1="66.75" y1="164.3" x2="68.55" y2="164.3" stroke="#111" stroke-width="0.8"/><line x1="66.75" y1="167.3" x2="68.55" y2="167.3" stroke="#111" stroke-width="0.8"/><rect x="73.5" y="145.9" width="4" height="4.1" rx="0.8" fill="none" stroke="#0000ff" stroke-width="0.7"/><line x1="73.9" y1="147.5" x2="77.1" y2="147.5" stroke="#ff0000" stroke-width="1"/><line x1="74.6" y1="145.9" x2="76.4" y2="145.9" stroke="#111" stroke-width="0.8"/><line x1="74.6" y1="150" x2="76.4" y2="150" stroke="#111" stroke-width="0.8"/><line x1="83.35" y1="220" x2="83.35" y2="221" stroke="#000" stroke-dasharray="1.8 2.2" stroke-width="0.8"/><rect x="81.35" y="216.7" width="4" height="3.3" rx="0.8" fill="none" stroke="#0000ff" stroke-width="0.7"/><line x1="81.75" y1="218.5" x2="84.95" y2="218.5" stroke="#ff0000" stroke-width="1"/><line x1="82.45" y1="216.7" x2="84.25" y2="216.7" stroke="#111" stroke-width="0.8"/><line x1="82.45" y1="221" x2="84.25" y2="221" stroke="#111" stroke-width="0.8"/><rect x="89.19" y="216.4" width="4" height="5.5" rx="0.8" fill="none" stroke="#0000ff" stroke-width="0.7"/><line x1="89.59" y1="220" x2="92.79" y2="220" stroke="#ff0000" stroke-width="1"/><line x1="90.29" y1="216.4" x2="92.09" y2="216.4" stroke="#111" stroke-width="0.8"/><line x1="90.29" y1="221.9" x2="92.09" y2="221.9" stroke="#111" stroke-width="0.8"/><rect x="90.19" y="213.8" width="2" height="1.6" fill="#333"/><line x1="97.04" y1="140.3" x2="101.04" y2="140.3" stroke="#a8185e" stroke-width="1.3"/><rect x="104.38" y="145.6" width="5" height="2" rx="1" fill="#0000ff"/><line x1="105.38" y1="146.6" x2="108.38" y2="146.6" stroke="#ff0000" stroke-width="1"/><rect x="112.73" y="139.7" width="4" height="2.6" rx="0.8" fill="none" stroke="#0000ff" stroke-width="0.7"/><line x1="113.13" y1="141" x2="116.33" y2="141" stroke="#ff0000" stroke-width="1"/><line x1="113.83" y1="139.7" x2="115.63" y2="139.7" stroke="#111" stroke-width="0.8"/><line x1="113.83" y1="142.3" x2="115.63" y2="142.3" stroke="#111" stroke-width="0.8"/><rect x="120.58" y="139.7" width="4" height="1.8" rx="0.8" fill="none" stroke="#0000ff" stroke-width="0.7"/><line x1="120.98" y1="140.5" x2="124.18" y2="140.5" stroke="#ff0000" stroke-width="1"/><line x1="121.68" y1="139.7" x2="123.48" y2="139.7" stroke="#111" stroke-width="0.8"/><line x1="121.68" y1="141.5" x2="123.48" y2="141.5" stroke="#111" stroke-width="0.8"/><rect x="162.5" y="139.5" width="104" height="83" fill="none" stroke="#7a7a7a" stroke-width="1"/><g stroke="#303030" stroke-width="0.8"><line x1="162.1" y1="221.75" x2="163.8" y2="221.75"/><line x1="266.9" y1="221.75" x2="265.2" y2="221.75"/><line x1="162.1" y1="210.54" x2="163.4" y2="210.54"/><line x1="266.9" y1="210.54" x2="265.6" y2="210.54"/><line x1="162.1" y1="203.98" x2="163.4" y2="203.98"/><line x1="266.9" y1="203.98" x2="265.6" y2="203.98"/><line x1="162.1" y1="199.32" x2="163.4" y2="199.32"/><line x1="266.9" y1="199.32" x2="265.6" y2="199.32"/><line x1="162.1" y1="195.71" x2="163.4" y2="195.71"/><line x1="266.9" y1="195.71" x2="265.6" y2="195.71"/><line x1="162.1" y1="192.76" x2="163.4" y2="192.76"/><line x1="266.9" y1="192.76" x2="265.6" y2="192.76"/><line x1="162.1" y1="190.27" x2="163.4" y2="190.27"/><line x1="266.9" y1="190.27" x2="265.6" y2="190.27"/><line x1="162.1" y1="188.11" x2="163.4" y2="188.11"/><line x1="266.9" y1="188.11" x2="265.6" y2="188.11"/><line x1="162.1" y1="186.2" x2="163.4" y2="186.2"/><line x1="266.9" y1="186.2" x2="265.6" y2="186.2"/><line x1="162.1" y1="184.5" x2="163.8" y2="184.5"/><line x1="266.9" y1="184.5" x2="265.2" y2="184.5"/><line x1="162.1" y1="173.29" x2="163.4" y2="173.29"/><line x1="266.9" y1="173.29" x2="265.6" y2="173.29"/><line x1="162.1" y1="166.73" x2="163.4" y2="166.73"/><line x1="266.9" y1="166.73" x2="265.6" y2="166.73"/><line x1="162.1" y1="162.07" x2="163.4" y2="162.07"/><line x1="266.9" y1="162.07" x2="265.6" y2="162.07"/><line x1="162.1" y1="158.46" x2="163.4" y2="158.46"/><line x1="266.9" y1="158.46" x2="265.6" y2="158.46"/><line x1="162.1" y1="155.51" x2="163.4" y2="155.51"/><line x1="266.9" y1="155.51" x2="265.6" y2="155.51"/><line x1="162.1" y1="153.02" x2="163.4" y2="153.02"/><line x1="266.9" y1="153.02" x2="265.6" y2="153.02"/><line x1="162.1" y1="150.86" x2="163.4" y2="150.86"/><line x1="266.9" y1="150.86" x2="265.6" y2="150.86"/><line x1="162.1" y1="148.95" x2="163.4" y2="148.95"/><line x1="266.9" y1="148.95" x2="265.6" y2="148.95"/><line x1="162.1" y1="147.25" x2="163.8" y2="147.25"/><line x1="266.9" y1="147.25" x2="265.2" y2="147.25"/><line x1="166.5" y1="222.9" x2="166.5" y2="221.2"/><line x1="166.5" y1="139.1" x2="166.5" y2="140.8"/><line x1="174.5" y1="222.9" x2="174.5" y2="221.2"/><line x1="174.5" y1="139.1" x2="174.5" y2="140.8"/><line x1="182.5" y1="222.9" x2="182.5" y2="221.2"/><line x1="182.5" y1="139.1" x2="182.5" y2="140.8"/><line x1="190.5" y1="222.9" x2="190.5" y2="221.2"/><line x1="190.5" y1="139.1" x2="190.5" y2="140.8"/><line x1="198.5" y1="222.9" x2="198.5" y2="221.2"/><line x1="198.5" y1="139.1" x2="198.5" y2="140.8"/><line x1="206.5" y1="222.9" x2="206.5" y2="221.2"/><line x1="206.5" y1="139.1" x2="206.5" y2="140.8"/><line x1="214.5" y1="222.9" x2="214.5" y2="221.2"/><line x1="214.5" y1="139.1" x2="214.5" y2="140.8"/><line x1="222.5" y1="222.9" x2="222.5" y2="221.2"/><line x1="222.5" y1="139.1" x2="222.5" y2="140.8"/><line x1="230.5" y1="222.9" x2="230.5" y2="221.2"/><line x1="230.5" y1="139.1" x2="230.5" y2="140.8"/><line x1="238.5" y1="222.9" x2="238.5" y2="221.2"/><line x1="238.5" y1="139.1" x2="238.5" y2="140.8"/><line x1="246.5" y1="222.9" x2="246.5" y2="221.2"/><line x1="246.5" y1="139.1" x2="246.5" y2="140.8"/><line x1="254.5" y1="222.9" x2="254.5" y2="221.2"/><line x1="254.5" y1="139.1" x2="254.5" y2="140.8"/><line x1="262.5" y1="222.9" x2="262.5" y2="221.2"/><line x1="262.5" y1="139.1" x2="262.5" y2="140.8"/></g><line x1="164.5" y1="222" x2="168.5" y2="222" stroke="#ff4a5a" stroke-width="0.9"/><rect x="172.5" y="155.1" width="4" height="4" rx="0.8" fill="none" stroke="#0000ff" stroke-width="0.7"/><line x1="172.9" y1="155.6" x2="176.1" y2="155.6" stroke="#ff0000" stroke-width="1"/><line x1="173.6" y1="155.1" x2="175.4" y2="155.1" stroke="#111" stroke-width="0.8"/><line x1="173.6" y1="159.1" x2="175.4" y2="159.1" stroke="#111" stroke-width="0.8"/><rect x="173.5" y="161.8" width="2" height="1.6" fill="#333"/><line x1="182.5" y1="186" x2="182.5" y2="182.8" stroke="#000" stroke-dasharray="1.8 2.2" stroke-width="0.8"/><rect x="180.5" y="186" width="4" height="13.5" rx="0.8" fill="none" stroke="#0000ff" stroke-width="0.7"/><line x1="180.9" y1="194.1" x2="184.1" y2="194.1" stroke="#ff0000" stroke-width="1"/><line x1="181.6" y1="182.8" x2="183.4" y2="182.8" stroke="#111" stroke-width="0.8"/><line x1="181.6" y1="199.5" x2="183.4" y2="199.5" stroke="#111" stroke-width="0.8"/><rect x="188.5" y="142.5" width="4" height="4.2" rx="0.8" fill="none" stroke="#0000ff" stroke-width="0.7"/><line x1="188.9" y1="143" x2="192.1" y2="143" stroke="#ff0000" stroke-width="1"/><line x1="189.6" y1="142.5" x2="191.4" y2="142.5" stroke="#111" stroke-width="0.8"/><line x1="189.6" y1="146.7" x2="191.4" y2="146.7" stroke="#111" stroke-width="0.8"/><rect x="189.5" y="149.1" width="2" height="1.6" fill="#333"/><rect x="196.5" y="220.6" width="4" height="1.7" rx="0.8" fill="none" stroke="#0000ff" stroke-width="0.7"/><line x1="196.9" y1="221.6" x2="200.1" y2="221.6" stroke="#ff0000" stroke-width="1"/><line x1="197.6" y1="220.6" x2="199.4" y2="220.6" stroke="#111" stroke-width="0.8"/><line x1="206.5" y1="208.3" x2="206.5" y2="207.4" stroke="#000" stroke-dasharray="1.8 2.2" stroke-width="0.8"/><rect x="204.5" y="208.3" width="4" height="3.7" rx="0.8" fill="none" stroke="#0000ff" stroke-width="0.7"/><line x1="204.9" y1="210" x2="208.1" y2="210" stroke="#ff0000" stroke-width="1"/><line x1="205.6" y1="207.4" x2="207.4" y2="207.4" stroke="#111" stroke-width="0.8"/><line x1="205.6" y1="212" x2="207.4" y2="212" stroke="#111" stroke-width="0.8"/><line x1="214.5" y1="179.8" x2="214.5" y2="178.75" stroke="#000" stroke-dasharray="1.8 2.2" stroke-width="0.8"/><rect x="212.5" y="179.8" width="4" height="13.7" rx="0.8" fill="none" stroke="#0000ff" stroke-width="0.7"/><line x1="212.9" y1="186.9" x2="216.1" y2="186.9" stroke="#ff0000" stroke-width="1"/><line x1="213.6" y1="178.75" x2="215.4" y2="178.75" stroke="#111" stroke-width="0.8"/><line x1="213.6" y1="193.5" x2="215.4" y2="193.5" stroke="#111" stroke-width="0.8"/><rect x="213.5" y="175.3" width="2" height="1.6" fill="#333"/><rect x="213.5" y="197.2" width="2" height="1.6" fill="#333"/><line x1="220.5" y1="221.5" x2="224.5" y2="221.5" stroke="#c8124e" stroke-width="1.2"/><line x1="230.5" y1="220.2" x2="230.5" y2="218.8" stroke="#000" stroke-dasharray="1.8 2.2" stroke-width="0.8"/><rect x="228.5" y="220.2" width="4" height="2.1" rx="0.8" fill="none" stroke="#0000ff" stroke-width="0.7"/><line x1="228.9" y1="222" x2="232.1" y2="222" stroke="#ff0000" stroke-width="1"/><line x1="229.6" y1="218.8" x2="231.4" y2="218.8" stroke="#111" stroke-width="0.8"/><rect x="236.5" y="164.7" width="4" height="2.8" rx="0.8" fill="none" stroke="#0000ff" stroke-width="0.7"/><line x1="236.9" y1="165.5" x2="240.1" y2="165.5" stroke="#ff0000" stroke-width="1"/><line x1="237.6" y1="164.7" x2="239.4" y2="164.7" stroke="#111" stroke-width="0.8"/><line x1="237.6" y1="167.5" x2="239.4" y2="167.5" stroke="#111" stroke-width="0.8"/><rect x="237.5" y="169.1" width="2" height="1.6" fill="#333"/><line x1="246.5" y1="179.8" x2="246.5" y2="179" stroke="#000" stroke-dasharray="1.8 2.2" stroke-width="0.8"/><line x1="246.5" y1="186.6" x2="246.5" y2="187.6" stroke="#000" stroke-dasharray="1.8 2.2" stroke-width="0.8"/><rect x="244.5" y="179.8" width="4" height="6.8" rx="0.8" fill="none" stroke="#0000ff" stroke-width="0.7"/><line x1="244.9" y1="182.7" x2="248.1" y2="182.7" stroke="#ff0000" stroke-width="1"/><line x1="245.6" y1="179" x2="247.4" y2="179" stroke="#111" stroke-width="0.8"/><line x1="245.6" y1="187.6" x2="247.4" y2="187.6" stroke="#111" stroke-width="0.8"/><line x1="254.5" y1="140.8" x2="254.5" y2="140" stroke="#000" stroke-dasharray="1.8 2.2" stroke-width="0.8"/><line x1="254.5" y1="144.2" x2="254.5" y2="145" stroke="#000" stroke-dasharray="1.8 2.2" stroke-width="0.8"/><rect x="252.5" y="140.8" width="4" height="3.4" rx="0.8" fill="none" stroke="#0000ff" stroke-width="0.7"/><line x1="252.9" y1="142" x2="256.1" y2="142" stroke="#ff0000" stroke-width="1"/><line x1="253.6" y1="140" x2="255.4" y2="140" stroke="#111" stroke-width="0.8"/><line x1="253.6" y1="145" x2="255.4" y2="145" stroke="#111" stroke-width="0.8"/><rect x="260" y="144" width="5" height="2" rx="1" fill="#0000ff"/><line x1="261" y1="145" x2="264" y2="145" stroke="#ff0000" stroke-width="1"/><rect x="302.5" y="139.5" width="104" height="83" fill="none" stroke="#7a7a7a" stroke-width="1"/><g stroke="#303030" stroke-width="0.8"><line x1="302.1" y1="211.46" x2="303.4" y2="211.46"/><line x1="406.9" y1="211.46" x2="405.6" y2="211.46"/><line x1="302.1" y1="205.12" x2="303.4" y2="205.12"/><line x1="406.9" y1="205.12" x2="405.6" y2="205.12"/><line x1="302.1" y1="200.63" x2="303.4" y2="200.63"/><line x1="406.9" y1="200.63" x2="405.6" y2="200.63"/><line x1="302.1" y1="197.14" x2="303.4" y2="197.14"/><line x1="406.9" y1="197.14" x2="405.6" y2="197.14"/><line x1="302.1" y1="194.29" x2="303.4" y2="194.29"/><line x1="406.9" y1="194.29" x2="405.6" y2="194.29"/><line x1="302.1" y1="191.88" x2="303.4" y2="191.88"/><line x1="406.9" y1="191.88" x2="405.6" y2="191.88"/><line x1="302.1" y1="189.79" x2="303.4" y2="189.79"/><line x1="406.9" y1="189.79" x2="405.6" y2="189.79"/><line x1="302.1" y1="187.95" x2="303.4" y2="187.95"/><line x1="406.9" y1="187.95" x2="405.6" y2="187.95"/><line x1="302.1" y1="186.3" x2="303.8" y2="186.3"/><line x1="406.9" y1="186.3" x2="405.2" y2="186.3"/><line x1="302.1" y1="175.46" x2="303.4" y2="175.46"/><line x1="406.9" y1="175.46" x2="405.6" y2="175.46"/><line x1="302.1" y1="169.12" x2="303.4" y2="169.12"/><line x1="406.9" y1="169.12" x2="405.6" y2="169.12"/><line x1="302.1" y1="164.63" x2="303.4" y2="164.63"/><line x1="406.9" y1="164.63" x2="405.6" y2="164.63"/><line x1="302.1" y1="161.14" x2="303.4" y2="161.14"/><line x1="406.9" y1="161.14" x2="405.6" y2="161.14"/><line x1="302.1" y1="158.29" x2="303.4" y2="158.29"/><line x1="406.9" y1="158.29" x2="405.6" y2="158.29"/><line x1="302.1" y1="155.88" x2="303.4" y2="155.88"/><line x1="406.9" y1="155.88" x2="405.6" y2="155.88"/><line x1="302.1" y1="153.79" x2="303.4" y2="153.79"/><line x1="406.9" y1="153.79" x2="405.6" y2="153.79"/><line x1="302.1" y1="151.95" x2="303.4" y2="151.95"/><line x1="406.9" y1="151.95" x2="405.6" y2="151.95"/><line x1="302.1" y1="150.3" x2="303.8" y2="150.3"/><line x1="406.9" y1="150.3" x2="405.2" y2="150.3"/><line x1="306.5" y1="222.9" x2="306.5" y2="221.2"/><line x1="306.5" y1="139.1" x2="306.5" y2="140.8"/><line x1="314.5" y1="222.9" x2="314.5" y2="221.2"/><line x1="314.5" y1="139.1" x2="314.5" y2="140.8"/><line x1="322.5" y1="222.9" x2="322.5" y2="221.2"/><line x1="322.5" y1="139.1" x2="322.5" y2="140.8"/><line x1="330.5" y1="222.9" x2="330.5" y2="221.2"/><line x1="330.5" y1="139.1" x2="330.5" y2="140.8"/><line x1="338.5" y1="222.9" x2="338.5" y2="221.2"/><line x1="338.5" y1="139.1" x2="338.5" y2="140.8"/><line x1="346.5" y1="222.9" x2="346.5" y2="221.2"/><line x1="346.5" y1="139.1" x2="346.5" y2="140.8"/><line x1="354.5" y1="222.9" x2="354.5" y2="221.2"/><line x1="354.5" y1="139.1" x2="354.5" y2="140.8"/><line x1="362.5" y1="222.9" x2="362.5" y2="221.2"/><line x1="362.5" y1="139.1" x2="362.5" y2="140.8"/><line x1="370.5" y1="222.9" x2="370.5" y2="221.2"/><line x1="370.5" y1="139.1" x2="370.5" y2="140.8"/><line x1="378.5" y1="222.9" x2="378.5" y2="221.2"/><line x1="378.5" y1="139.1" x2="378.5" y2="140.8"/><line x1="386.5" y1="222.9" x2="386.5" y2="221.2"/><line x1="386.5" y1="139.1" x2="386.5" y2="140.8"/><line x1="394.5" y1="222.9" x2="394.5" y2="221.2"/><line x1="394.5" y1="139.1" x2="394.5" y2="140.8"/><line x1="402.5" y1="222.9" x2="402.5" y2="221.2"/><line x1="402.5" y1="139.1" x2="402.5" y2="140.8"/></g><rect x="304.5" y="219.9" width="4" height="2.4" rx="0.8" fill="none" stroke="#0000ff" stroke-width="0.7"/><line x1="304.9" y1="221" x2="308.1" y2="221" stroke="#ff0000" stroke-width="1"/><line x1="305.6" y1="219.9" x2="307.4" y2="219.9" stroke="#111" stroke-width="0.8"/><line x1="314.5" y1="158.1" x2="314.5" y2="156.5" stroke="#000" stroke-dasharray="1.8 2.2" stroke-width="0.8"/><rect x="312.5" y="158.1" width="4" height="4.5" rx="0.8" fill="none" stroke="#0000ff" stroke-width="0.7"/><line x1="312.9" y1="161" x2="316.1" y2="161" stroke="#ff0000" stroke-width="1"/><line x1="313.6" y1="156.5" x2="315.4" y2="156.5" stroke="#111" stroke-width="0.8"/><line x1="313.6" y1="162.6" x2="315.4" y2="162.6" stroke="#111" stroke-width="0.8"/><line x1="322.5" y1="191.4" x2="322.5" y2="189.7" stroke="#000" stroke-dasharray="1.8 2.2" stroke-width="0.8"/><rect x="320.5" y="191.4" width="4" height="3.1" rx="0.8" fill="none" stroke="#0000ff" stroke-width="0.7"/><line x1="320.9" y1="193.5" x2="324.1" y2="193.5" stroke="#ff0000" stroke-width="1"/><line x1="321.6" y1="189.7" x2="323.4" y2="189.7" stroke="#111" stroke-width="0.8"/><line x1="321.6" y1="194.5" x2="323.4" y2="194.5" stroke="#111" stroke-width="0.8"/><line x1="330.5" y1="146.2" x2="330.5" y2="144.6" stroke="#000" stroke-dasharray="1.8 2.2" stroke-width="0.8"/><rect x="328.5" y="146.2" width="4" height="4.4" rx="0.8" fill="none" stroke="#0000ff" stroke-width="0.7"/><line x1="328.9" y1="149.3" x2="332.1" y2="149.3" stroke="#ff0000" stroke-width="1"/><line x1="329.6" y1="144.6" x2="331.4" y2="144.6" stroke="#111" stroke-width="0.8"/><line x1="329.6" y1="150.6" x2="331.4" y2="150.6" stroke="#111" stroke-width="0.8"/><line x1="338.5" y1="218.9" x2="338.5" y2="217.8" stroke="#000" stroke-dasharray="1.8 2.2" stroke-width="0.8"/><rect x="336.5" y="218.9" width="4" height="2.4" rx="0.8" fill="none" stroke="#0000ff" stroke-width="0.7"/><line x1="336.9" y1="220" x2="340.1" y2="220" stroke="#ff0000" stroke-width="1"/><line x1="337.6" y1="217.8" x2="339.4" y2="217.8" stroke="#111" stroke-width="0.8"/><line x1="337.6" y1="221.3" x2="339.4" y2="221.3" stroke="#111" stroke-width="0.8"/><line x1="346.5" y1="207.2" x2="346.5" y2="205.7" stroke="#000" stroke-dasharray="1.8 2.2" stroke-width="0.8"/><rect x="344.5" y="207.2" width="4" height="2.5" rx="0.8" fill="none" stroke="#0000ff" stroke-width="0.7"/><line x1="344.9" y1="208.7" x2="348.1" y2="208.7" stroke="#ff0000" stroke-width="1"/><line x1="345.6" y1="205.7" x2="347.4" y2="205.7" stroke="#111" stroke-width="0.8"/><line x1="345.6" y1="209.7" x2="347.4" y2="209.7" stroke="#111" stroke-width="0.8"/><line x1="354.5" y1="178.5" x2="354.5" y2="177" stroke="#000" stroke-dasharray="1.8 2.2" stroke-width="0.8"/><line x1="354.5" y1="201.8" x2="354.5" y2="205.7" stroke="#000" stroke-dasharray="1.8 2.2" stroke-width="0.8"/><rect x="352.5" y="178.5" width="4" height="23.3" rx="0.8" fill="none" stroke="#0000ff" stroke-width="0.7"/><line x1="352.9" y1="186.3" x2="356.1" y2="186.3" stroke="#ff0000" stroke-width="1"/><line x1="353.6" y1="177" x2="355.4" y2="177" stroke="#111" stroke-width="0.8"/><line x1="353.6" y1="205.7" x2="355.4" y2="205.7" stroke="#111" stroke-width="0.8"/><rect x="353.5" y="209.7" width="2" height="1.6" fill="#333"/><line x1="362.5" y1="214.1" x2="362.5" y2="211.7" stroke="#000" stroke-dasharray="1.8 2.2" stroke-width="0.8"/><line x1="362.5" y1="218.6" x2="362.5" y2="220.1" stroke="#000" stroke-dasharray="1.8 2.2" stroke-width="0.8"/><rect x="360.5" y="214.1" width="4" height="4.5" rx="0.8" fill="none" stroke="#0000ff" stroke-width="0.7"/><line x1="360.9" y1="216.5" x2="364.1" y2="216.5" stroke="#ff0000" stroke-width="1"/><line x1="361.6" y1="211.7" x2="363.4" y2="211.7" stroke="#111" stroke-width="0.8"/><line x1="361.6" y1="220.1" x2="363.4" y2="220.1" stroke="#111" stroke-width="0.8"/><line x1="370.5" y1="215.9" x2="370.5" y2="215.4" stroke="#000" stroke-dasharray="1.8 2.2" stroke-width="0.8"/><rect x="368.5" y="215.9" width="4" height="2.7" rx="0.8" fill="none" stroke="#0000ff" stroke-width="0.7"/><line x1="368.9" y1="217.3" x2="372.1" y2="217.3" stroke="#ff0000" stroke-width="1"/><line x1="369.6" y1="215.4" x2="371.4" y2="215.4" stroke="#111" stroke-width="0.8"/><line x1="369.6" y1="218.6" x2="371.4" y2="218.6" stroke="#111" stroke-width="0.8"/><line x1="378.5" y1="170.4" x2="378.5" y2="172.3" stroke="#000" stroke-dasharray="1.8 2.2" stroke-width="0.8"/><rect x="376.5" y="163.6" width="4" height="6.8" rx="0.8" fill="none" stroke="#0000ff" stroke-width="0.7"/><line x1="376.9" y1="166.4" x2="380.1" y2="166.4" stroke="#ff0000" stroke-width="1"/><line x1="377.6" y1="163.3" x2="379.4" y2="163.3" stroke="#111" stroke-width="0.8"/><line x1="377.6" y1="172.3" x2="379.4" y2="172.3" stroke="#111" stroke-width="0.8"/><line x1="386.5" y1="198.6" x2="386.5" y2="203.4" stroke="#000" stroke-dasharray="1.8 2.2" stroke-width="0.8"/><rect x="384.5" y="189.6" width="4" height="9" rx="0.8" fill="none" stroke="#0000ff" stroke-width="0.7"/><line x1="384.9" y1="191.4" x2="388.1" y2="191.4" stroke="#ff0000" stroke-width="1"/><line x1="385.6" y1="189.6" x2="387.4" y2="189.6" stroke="#111" stroke-width="0.8"/><line x1="385.6" y1="203.4" x2="387.4" y2="203.4" stroke="#111" stroke-width="0.8"/><rect x="385.5" y="207.6" width="2" height="1.6" fill="#333"/><line x1="394.5" y1="141" x2="394.5" y2="140" stroke="#000" stroke-dasharray="1.8 2.2" stroke-width="0.8"/><rect x="392.5" y="141" width="4" height="2.5" rx="0.8" fill="none" stroke="#0000ff" stroke-width="0.7"/><line x1="392.9" y1="142.5" x2="396.1" y2="142.5" stroke="#ff0000" stroke-width="1"/><line x1="393.6" y1="140" x2="395.4" y2="140" stroke="#111" stroke-width="0.8"/><line x1="393.6" y1="143.5" x2="395.4" y2="143.5" stroke="#111" stroke-width="0.8"/><line x1="400.5" y1="148.5" x2="404.5" y2="148.5" stroke="#a8185e" stroke-width="1.3"/><rect x="442.5" y="139.5" width="103" height="83" fill="none" stroke="#7a7a7a" stroke-width="1"/><g stroke="#303030" stroke-width="0.8"><line x1="442.1" y1="222.2" x2="443.8" y2="222.2"/><line x1="545.9" y1="222.2" x2="544.2" y2="222.2"/><line x1="442.1" y1="211.27" x2="443.4" y2="211.27"/><line x1="545.9" y1="211.27" x2="544.6" y2="211.27"/><line x1="442.1" y1="204.88" x2="443.4" y2="204.88"/><line x1="545.9" y1="204.88" x2="544.6" y2="204.88"/><line x1="442.1" y1="200.35" x2="443.4" y2="200.35"/><line x1="545.9" y1="200.35" x2="544.6" y2="200.35"/><line x1="442.1" y1="196.83" x2="443.4" y2="196.83"/><line x1="545.9" y1="196.83" x2="544.6" y2="196.83"/><line x1="442.1" y1="193.95" x2="443.4" y2="193.95"/><line x1="545.9" y1="193.95" x2="544.6" y2="193.95"/><line x1="442.1" y1="191.52" x2="443.4" y2="191.52"/><line x1="545.9" y1="191.52" x2="544.6" y2="191.52"/><line x1="442.1" y1="189.42" x2="443.4" y2="189.42"/><line x1="545.9" y1="189.42" x2="544.6" y2="189.42"/><line x1="442.1" y1="187.56" x2="443.4" y2="187.56"/><line x1="545.9" y1="187.56" x2="544.6" y2="187.56"/><line x1="442.1" y1="185.9" x2="443.8" y2="185.9"/><line x1="545.9" y1="185.9" x2="544.2" y2="185.9"/><line x1="442.1" y1="174.97" x2="443.4" y2="174.97"/><line x1="545.9" y1="174.97" x2="544.6" y2="174.97"/><line x1="442.1" y1="168.58" x2="443.4" y2="168.58"/><line x1="545.9" y1="168.58" x2="544.6" y2="168.58"/><line x1="442.1" y1="164.05" x2="443.4" y2="164.05"/><line x1="545.9" y1="164.05" x2="544.6" y2="164.05"/><line x1="442.1" y1="160.53" x2="443.4" y2="160.53"/><line x1="545.9" y1="160.53" x2="544.6" y2="160.53"/><line x1="442.1" y1="157.65" x2="443.4" y2="157.65"/><line x1="545.9" y1="157.65" x2="544.6" y2="157.65"/><line x1="442.1" y1="155.22" x2="443.4" y2="155.22"/><line x1="545.9" y1="155.22" x2="544.6" y2="155.22"/><line x1="442.1" y1="153.12" x2="443.4" y2="153.12"/><line x1="545.9" y1="153.12" x2="544.6" y2="153.12"/><line x1="442.1" y1="151.26" x2="443.4" y2="151.26"/><line x1="545.9" y1="151.26" x2="544.6" y2="151.26"/><line x1="442.1" y1="149.6" x2="443.8" y2="149.6"/><line x1="545.9" y1="149.6" x2="544.2" y2="149.6"/><line x1="446.46" y1="222.9" x2="446.46" y2="221.2"/><line x1="446.46" y1="139.1" x2="446.46" y2="140.8"/><line x1="454.38" y1="222.9" x2="454.38" y2="221.2"/><line x1="454.38" y1="139.1" x2="454.38" y2="140.8"/><line x1="462.31" y1="222.9" x2="462.31" y2="221.2"/><line x1="462.31" y1="139.1" x2="462.31" y2="140.8"/><line x1="470.23" y1="222.9" x2="470.23" y2="221.2"/><line x1="470.23" y1="139.1" x2="470.23" y2="140.8"/><line x1="478.15" y1="222.9" x2="478.15" y2="221.2"/><line x1="478.15" y1="139.1" x2="478.15" y2="140.8"/><line x1="486.08" y1="222.9" x2="486.08" y2="221.2"/><line x1="486.08" y1="139.1" x2="486.08" y2="140.8"/><line x1="494" y1="222.9" x2="494" y2="221.2"/><line x1="494" y1="139.1" x2="494" y2="140.8"/><line x1="501.92" y1="222.9" x2="501.92" y2="221.2"/><line x1="501.92" y1="139.1" x2="501.92" y2="140.8"/><line x1="509.85" y1="222.9" x2="509.85" y2="221.2"/><line x1="509.85" y1="139.1" x2="509.85" y2="140.8"/><line x1="517.77" y1="222.9" x2="517.77" y2="221.2"/><line x1="517.77" y1="139.1" x2="517.77" y2="140.8"/><line x1="525.69" y1="222.9" x2="525.69" y2="221.2"/><line x1="525.69" y1="139.1" x2="525.69" y2="140.8"/><line x1="533.62" y1="222.9" x2="533.62" y2="221.2"/><line x1="533.62" y1="139.1" x2="533.62" y2="140.8"/><line x1="541.54" y1="222.9" x2="541.54" y2="221.2"/><line x1="541.54" y1="139.1" x2="541.54" y2="140.8"/></g><line x1="444.46" y1="222" x2="448.46" y2="222" stroke="#ff4a5a" stroke-width="0.9"/><line x1="454.38" y1="156.3" x2="454.38" y2="155.3" stroke="#000" stroke-dasharray="1.8 2.2" stroke-width="0.8"/><rect x="452.38" y="156.3" width="4" height="3.7" rx="0.8" fill="none" stroke="#0000ff" stroke-width="0.7"/><line x1="452.78" y1="158.5" x2="455.98" y2="158.5" stroke="#ff0000" stroke-width="1"/><line x1="453.48" y1="155.3" x2="455.28" y2="155.3" stroke="#111" stroke-width="0.8"/><line x1="453.48" y1="160" x2="455.28" y2="160" stroke="#111" stroke-width="0.8"/><rect x="460.31" y="192.3" width="4" height="3.2" rx="0.8" fill="none" stroke="#0000ff" stroke-width="0.7"/><line x1="460.71" y1="193.9" x2="463.91" y2="193.9" stroke="#ff0000" stroke-width="1"/><line x1="461.41" y1="192.3" x2="463.21" y2="192.3" stroke="#111" stroke-width="0.8"/><line x1="461.41" y1="195.5" x2="463.21" y2="195.5" stroke="#111" stroke-width="0.8"/><line x1="470.23" y1="144.3" x2="470.23" y2="143.1" stroke="#000" stroke-dasharray="1.8 2.2" stroke-width="0.8"/><rect x="468.23" y="144.3" width="4" height="3.4" rx="0.8" fill="none" stroke="#0000ff" stroke-width="0.7"/><line x1="468.63" y1="146.3" x2="471.83" y2="146.3" stroke="#ff0000" stroke-width="1"/><line x1="469.33" y1="143.1" x2="471.13" y2="143.1" stroke="#111" stroke-width="0.8"/><line x1="469.33" y1="147.7" x2="471.13" y2="147.7" stroke="#111" stroke-width="0.8"/><line x1="476.15" y1="222" x2="480.15" y2="222" stroke="#ff4a5a" stroke-width="0.9"/><line x1="486.08" y1="210.1" x2="486.08" y2="209.6" stroke="#000" stroke-dasharray="1.8 2.2" stroke-width="0.8"/><rect x="484.08" y="210.1" width="4" height="3.9" rx="0.8" fill="none" stroke="#0000ff" stroke-width="0.7"/><line x1="484.48" y1="212" x2="487.68" y2="212" stroke="#ff0000" stroke-width="1"/><line x1="485.18" y1="209.6" x2="486.98" y2="209.6" stroke="#111" stroke-width="0.8"/><line x1="485.18" y1="214" x2="486.98" y2="214" stroke="#111" stroke-width="0.8"/><rect x="491.5" y="189.5" width="5" height="2" rx="1" fill="#0000ff"/><line x1="492.5" y1="190.5" x2="495.5" y2="190.5" stroke="#ff0000" stroke-width="1"/><line x1="499.92" y1="221.5" x2="503.92" y2="221.5" stroke="#c8124e" stroke-width="1.2"/><line x1="507.85" y1="221.5" x2="511.85" y2="221.5" stroke="#c8124e" stroke-width="1.2"/><line x1="515.77" y1="165.8" x2="519.77" y2="165.8" stroke="#a8185e" stroke-width="1.3"/><line x1="525.69" y1="176.5" x2="525.69" y2="172.8" stroke="#000" stroke-dasharray="1.8 2.2" stroke-width="0.8"/><line x1="525.69" y1="184.2" x2="525.69" y2="185.9" stroke="#000" stroke-dasharray="1.8 2.2" stroke-width="0.8"/><rect x="523.69" y="176.5" width="4" height="7.7" rx="0.8" fill="none" stroke="#0000ff" stroke-width="0.7"/><line x1="524.09" y1="181.3" x2="527.29" y2="181.3" stroke="#ff0000" stroke-width="1"/><line x1="524.79" y1="172.8" x2="526.59" y2="172.8" stroke="#111" stroke-width="0.8"/><line x1="524.79" y1="185.9" x2="526.59" y2="185.9" stroke="#111" stroke-width="0.8"/><rect x="531.62" y="140.9" width="4" height="2.1" rx="0.8" fill="none" stroke="#0000ff" stroke-width="0.7"/><line x1="532.02" y1="142" x2="535.22" y2="142" stroke="#ff0000" stroke-width="1"/><line x1="532.72" y1="140.9" x2="534.52" y2="140.9" stroke="#111" stroke-width="0.8"/><line x1="532.72" y1="143" x2="534.52" y2="143" stroke="#111" stroke-width="0.8"/><rect x="539.04" y="145.8" width="5" height="2" rx="1" fill="#0000ff"/><line x1="540.04" y1="146.8" x2="543.04" y2="146.8" stroke="#ff0000" stroke-width="1"/><rect x="22.5" y="267.5" width="104" height="83" fill="none" stroke="#7a7a7a" stroke-width="1"/><g stroke="#303030" stroke-width="0.8"><line x1="22.1" y1="345.34" x2="23.4" y2="345.34"/><line x1="126.9" y1="345.34" x2="125.6" y2="345.34"/><line x1="22.1" y1="340.53" x2="23.4" y2="340.53"/><line x1="126.9" y1="340.53" x2="125.6" y2="340.53"/><line x1="22.1" y1="336.6" x2="23.4" y2="336.6"/><line x1="126.9" y1="336.6" x2="125.6" y2="336.6"/><line x1="22.1" y1="333.28" x2="23.4" y2="333.28"/><line x1="126.9" y1="333.28" x2="125.6" y2="333.28"/><line x1="22.1" y1="330.41" x2="23.4" y2="330.41"/><line x1="126.9" y1="330.41" x2="125.6" y2="330.41"/><line x1="22.1" y1="327.87" x2="23.4" y2="327.87"/><line x1="126.9" y1="327.87" x2="125.6" y2="327.87"/><line x1="22.1" y1="325.6" x2="23.8" y2="325.6"/><line x1="126.9" y1="325.6" x2="125.2" y2="325.6"/><line x1="22.1" y1="310.67" x2="23.4" y2="310.67"/><line x1="126.9" y1="310.67" x2="125.6" y2="310.67"/><line x1="22.1" y1="301.93" x2="23.4" y2="301.93"/><line x1="126.9" y1="301.93" x2="125.6" y2="301.93"/><line x1="22.1" y1="295.74" x2="23.4" y2="295.74"/><line x1="126.9" y1="295.74" x2="125.6" y2="295.74"/><line x1="22.1" y1="290.93" x2="23.4" y2="290.93"/><line x1="126.9" y1="290.93" x2="125.6" y2="290.93"/><line x1="22.1" y1="287" x2="23.4" y2="287"/><line x1="126.9" y1="287" x2="125.6" y2="287"/><line x1="22.1" y1="283.68" x2="23.4" y2="283.68"/><line x1="126.9" y1="283.68" x2="125.6" y2="283.68"/><line x1="22.1" y1="280.81" x2="23.4" y2="280.81"/><line x1="126.9" y1="280.81" x2="125.6" y2="280.81"/><line x1="22.1" y1="278.27" x2="23.4" y2="278.27"/><line x1="126.9" y1="278.27" x2="125.6" y2="278.27"/><line x1="22.1" y1="276" x2="23.8" y2="276"/><line x1="126.9" y1="276" x2="125.2" y2="276"/><line x1="26.5" y1="350.9" x2="26.5" y2="349.2"/><line x1="26.5" y1="267.1" x2="26.5" y2="268.8"/><line x1="34.5" y1="350.9" x2="34.5" y2="349.2"/><line x1="34.5" y1="267.1" x2="34.5" y2="268.8"/><line x1="42.5" y1="350.9" x2="42.5" y2="349.2"/><line x1="42.5" y1="267.1" x2="42.5" y2="268.8"/><line x1="50.5" y1="350.9" x2="50.5" y2="349.2"/><line x1="50.5" y1="267.1" x2="50.5" y2="268.8"/><line x1="58.5" y1="350.9" x2="58.5" y2="349.2"/><line x1="58.5" y1="267.1" x2="58.5" y2="268.8"/><line x1="66.5" y1="350.9" x2="66.5" y2="349.2"/><line x1="66.5" y1="267.1" x2="66.5" y2="268.8"/><line x1="74.5" y1="350.9" x2="74.5" y2="349.2"/><line x1="74.5" y1="267.1" x2="74.5" y2="268.8"/><line x1="82.5" y1="350.9" x2="82.5" y2="349.2"/><line x1="82.5" y1="267.1" x2="82.5" y2="268.8"/><line x1="90.5" y1="350.9" x2="90.5" y2="349.2"/><line x1="90.5" y1="267.1" x2="90.5" y2="268.8"/><line x1="98.5" y1="350.9" x2="98.5" y2="349.2"/><line x1="98.5" y1="267.1" x2="98.5" y2="268.8"/><line x1="106.5" y1="350.9" x2="106.5" y2="349.2"/><line x1="106.5" y1="267.1" x2="106.5" y2="268.8"/><line x1="114.5" y1="350.9" x2="114.5" y2="349.2"/><line x1="114.5" y1="267.1" x2="114.5" y2="268.8"/><line x1="122.5" y1="350.9" x2="122.5" y2="349.2"/><line x1="122.5" y1="267.1" x2="122.5" y2="268.8"/></g><line x1="26.5" y1="317.3" x2="26.5" y2="316.6" stroke="#000" stroke-dasharray="1.8 2.2" stroke-width="0.8"/><line x1="26.5" y1="324.5" x2="26.5" y2="326" stroke="#000" stroke-dasharray="1.8 2.2" stroke-width="0.8"/><rect x="24.5" y="317.3" width="4" height="7.2" rx="0.8" fill="none" stroke="#0000ff" stroke-width="0.7"/><line x1="24.9" y1="320.4" x2="28.1" y2="320.4" stroke="#ff0000" stroke-width="1"/><line x1="25.6" y1="316.6" x2="27.4" y2="316.6" stroke="#111" stroke-width="0.8"/><line x1="25.6" y1="326" x2="27.4" y2="326" stroke="#111" stroke-width="0.8"/><line x1="34.5" y1="288.5" x2="34.5" y2="287.7" stroke="#000" stroke-dasharray="1.8 2.2" stroke-width="0.8"/><line x1="34.5" y1="294.8" x2="34.5" y2="295.5" stroke="#000" stroke-dasharray="1.8 2.2" stroke-width="0.8"/><rect x="32.5" y="288.5" width="4" height="6.3" rx="0.8" fill="none" stroke="#0000ff" stroke-width="0.7"/><line x1="32.9" y1="291.4" x2="36.1" y2="291.4" stroke="#ff0000" stroke-width="1"/><line x1="33.6" y1="287.7" x2="35.4" y2="287.7" stroke="#111" stroke-width="0.8"/><line x1="33.6" y1="295.5" x2="35.4" y2="295.5" stroke="#111" stroke-width="0.8"/><line x1="42.5" y1="308.2" x2="42.5" y2="307.5" stroke="#000" stroke-dasharray="1.8 2.2" stroke-width="0.8"/><rect x="40.5" y="308.2" width="4" height="2.2" rx="0.8" fill="none" stroke="#0000ff" stroke-width="0.7"/><line x1="40.9" y1="309.3" x2="44.1" y2="309.3" stroke="#ff0000" stroke-width="1"/><line x1="41.6" y1="307.5" x2="43.4" y2="307.5" stroke="#111" stroke-width="0.8"/><line x1="41.6" y1="310.4" x2="43.4" y2="310.4" stroke="#111" stroke-width="0.8"/><line x1="50.5" y1="278.5" x2="50.5" y2="277.5" stroke="#000" stroke-dasharray="1.8 2.2" stroke-width="0.8"/><line x1="50.5" y1="286.5" x2="50.5" y2="288.5" stroke="#000" stroke-dasharray="1.8 2.2" stroke-width="0.8"/><rect x="48.5" y="278.5" width="4" height="8" rx="0.8" fill="none" stroke="#0000ff" stroke-width="0.7"/><line x1="48.9" y1="282.5" x2="52.1" y2="282.5" stroke="#ff0000" stroke-width="1"/><line x1="49.6" y1="277.5" x2="51.4" y2="277.5" stroke="#111" stroke-width="0.8"/><line x1="49.6" y1="288.5" x2="51.4" y2="288.5" stroke="#111" stroke-width="0.8"/><line x1="58.5" y1="313" x2="58.5" y2="312.4" stroke="#000" stroke-dasharray="1.8 2.2" stroke-width="0.8"/><line x1="58.5" y1="318.6" x2="58.5" y2="319.5" stroke="#000" stroke-dasharray="1.8 2.2" stroke-width="0.8"/><rect x="56.5" y="313" width="4" height="5.6" rx="0.8" fill="none" stroke="#0000ff" stroke-width="0.7"/><line x1="56.9" y1="316" x2="60.1" y2="316" stroke="#ff0000" stroke-width="1"/><line x1="57.6" y1="312.4" x2="59.4" y2="312.4" stroke="#111" stroke-width="0.8"/><line x1="57.6" y1="319.5" x2="59.4" y2="319.5" stroke="#111" stroke-width="0.8"/><line x1="66.5" y1="303.6" x2="66.5" y2="305" stroke="#000" stroke-dasharray="1.8 2.2" stroke-width="0.8"/><rect x="64.5" y="301.3" width="4" height="2.3" rx="0.8" fill="none" stroke="#0000ff" stroke-width="0.7"/><line x1="64.9" y1="302.3" x2="68.1" y2="302.3" stroke="#ff0000" stroke-width="1"/><line x1="65.6" y1="301.3" x2="67.4" y2="301.3" stroke="#111" stroke-width="0.8"/><line x1="65.6" y1="305" x2="67.4" y2="305" stroke="#111" stroke-width="0.8"/><line x1="74.5" y1="295.2" x2="74.5" y2="294.4" stroke="#000" stroke-dasharray="1.8 2.2" stroke-width="0.8"/><rect x="72.5" y="295.2" width="4" height="3.3" rx="0.8" fill="none" stroke="#0000ff" stroke-width="0.7"/><line x1="72.9" y1="296.8" x2="76.1" y2="296.8" stroke="#ff0000" stroke-width="1"/><line x1="73.6" y1="294.4" x2="75.4" y2="294.4" stroke="#111" stroke-width="0.8"/><line x1="73.6" y1="298.5" x2="75.4" y2="298.5" stroke="#111" stroke-width="0.8"/><rect x="80.5" y="302" width="4" height="4.7" rx="0.8" fill="none" stroke="#0000ff" stroke-width="0.7"/><line x1="80.9" y1="304.4" x2="84.1" y2="304.4" stroke="#ff0000" stroke-width="1"/><line x1="81.6" y1="302" x2="83.4" y2="302" stroke="#111" stroke-width="0.8"/><line x1="81.6" y1="306.7" x2="83.4" y2="306.7" stroke="#111" stroke-width="0.8"/><line x1="90.5" y1="307.2" x2="90.5" y2="306.5" stroke="#000" stroke-dasharray="1.8 2.2" stroke-width="0.8"/><rect x="88.5" y="307.2" width="4" height="3.1" rx="0.8" fill="none" stroke="#0000ff" stroke-width="0.7"/><line x1="88.9" y1="308.8" x2="92.1" y2="308.8" stroke="#ff0000" stroke-width="1"/><line x1="89.6" y1="306.5" x2="91.4" y2="306.5" stroke="#111" stroke-width="0.8"/><line x1="89.6" y1="310.3" x2="91.4" y2="310.3" stroke="#111" stroke-width="0.8"/><line x1="98.5" y1="271.3" x2="98.5" y2="268" stroke="#000" stroke-dasharray="1.8 2.2" stroke-width="0.8"/><line x1="98.5" y1="283" x2="98.5" y2="287" stroke="#000" stroke-dasharray="1.8 2.2" stroke-width="0.8"/><rect x="96.5" y="271.3" width="4" height="11.7" rx="0.8" fill="none" stroke="#0000ff" stroke-width="0.7"/><line x1="96.9" y1="275.8" x2="100.1" y2="275.8" stroke="#ff0000" stroke-width="1"/><line x1="97.6" y1="268" x2="99.4" y2="268" stroke="#111" stroke-width="0.8"/><line x1="97.6" y1="287" x2="99.4" y2="287" stroke="#111" stroke-width="0.8"/><rect x="97.5" y="291" width="2" height="1.6" fill="#333"/><line x1="106.5" y1="297.5" x2="106.5" y2="298.3" stroke="#000" stroke-dasharray="1.8 2.2" stroke-width="0.8"/><rect x="104.5" y="294.5" width="4" height="3" rx="0.8" fill="none" stroke="#0000ff" stroke-width="0.7"/><line x1="104.9" y1="295.8" x2="108.1" y2="295.8" stroke="#ff0000" stroke-width="1"/><line x1="105.6" y1="294.5" x2="107.4" y2="294.5" stroke="#111" stroke-width="0.8"/><line x1="105.6" y1="298.3" x2="107.4" y2="298.3" stroke="#111" stroke-width="0.8"/><line x1="114.5" y1="277.7" x2="114.5" y2="278.2" stroke="#000" stroke-dasharray="1.8 2.2" stroke-width="0.8"/><rect x="112.5" y="272.9" width="4" height="4.8" rx="0.8" fill="none" stroke="#0000ff" stroke-width="0.7"/><line x1="112.9" y1="275.1" x2="116.1" y2="275.1" stroke="#ff0000" stroke-width="1"/><line x1="113.6" y1="272.9" x2="115.4" y2="272.9" stroke="#111" stroke-width="0.8"/><line x1="113.6" y1="278.2" x2="115.4" y2="278.2" stroke="#111" stroke-width="0.8"/><line x1="122.5" y1="281.3" x2="122.5" y2="283" stroke="#000" stroke-dasharray="1.8 2.2" stroke-width="0.8"/><rect x="120.5" y="271.5" width="4" height="9.8" rx="0.8" fill="none" stroke="#0000ff" stroke-width="0.7"/><line x1="120.9" y1="273.7" x2="124.1" y2="273.7" stroke="#ff0000" stroke-width="1"/><line x1="121.6" y1="271.5" x2="123.4" y2="271.5" stroke="#111" stroke-width="0.8"/><line x1="121.6" y1="283" x2="123.4" y2="283" stroke="#111" stroke-width="0.8"/><rect x="121.5" y="286.7" width="2" height="1.6" fill="#333"/><rect x="442.5" y="267.5" width="103" height="83" fill="none" stroke="#7a7a7a" stroke-width="1"/><g stroke="#303030" stroke-width="0.8"><line x1="442.1" y1="347.54" x2="443.4" y2="347.54"/><line x1="545.9" y1="347.54" x2="544.6" y2="347.54"/><line x1="442.1" y1="343.61" x2="443.4" y2="343.61"/><line x1="545.9" y1="343.61" x2="544.6" y2="343.61"/><line x1="442.1" y1="340.2" x2="443.4" y2="340.2"/><line x1="545.9" y1="340.2" x2="544.6" y2="340.2"/><line x1="442.1" y1="337.19" x2="443.4" y2="337.19"/><line x1="545.9" y1="337.19" x2="544.6" y2="337.19"/><line x1="442.1" y1="334.5" x2="443.8" y2="334.5"/><line x1="545.9" y1="334.5" x2="544.2" y2="334.5"/><line x1="442.1" y1="316.8" x2="443.4" y2="316.8"/><line x1="545.9" y1="316.8" x2="544.6" y2="316.8"/><line x1="442.1" y1="306.45" x2="443.4" y2="306.45"/><line x1="545.9" y1="306.45" x2="544.6" y2="306.45"/><line x1="442.1" y1="299.1" x2="443.4" y2="299.1"/><line x1="545.9" y1="299.1" x2="544.6" y2="299.1"/><line x1="442.1" y1="293.4" x2="443.4" y2="293.4"/><line x1="545.9" y1="293.4" x2="544.6" y2="293.4"/><line x1="442.1" y1="288.74" x2="443.4" y2="288.74"/><line x1="545.9" y1="288.74" x2="544.6" y2="288.74"/><line x1="442.1" y1="284.81" x2="443.4" y2="284.81"/><line x1="545.9" y1="284.81" x2="544.6" y2="284.81"/><line x1="442.1" y1="281.4" x2="443.4" y2="281.4"/><line x1="545.9" y1="281.4" x2="544.6" y2="281.4"/><line x1="442.1" y1="278.39" x2="443.4" y2="278.39"/><line x1="545.9" y1="278.39" x2="544.6" y2="278.39"/><line x1="442.1" y1="275.7" x2="443.8" y2="275.7"/><line x1="545.9" y1="275.7" x2="544.2" y2="275.7"/><line x1="446.46" y1="350.9" x2="446.46" y2="349.2"/><line x1="446.46" y1="267.1" x2="446.46" y2="268.8"/><line x1="454.38" y1="350.9" x2="454.38" y2="349.2"/><line x1="454.38" y1="267.1" x2="454.38" y2="268.8"/><line x1="462.31" y1="350.9" x2="462.31" y2="349.2"/><line x1="462.31" y1="267.1" x2="462.31" y2="268.8"/><line x1="470.23" y1="350.9" x2="470.23" y2="349.2"/><line x1="470.23" y1="267.1" x2="470.23" y2="268.8"/><line x1="478.15" y1="350.9" x2="478.15" y2="349.2"/><line x1="478.15" y1="267.1" x2="478.15" y2="268.8"/><line x1="486.08" y1="350.9" x2="486.08" y2="349.2"/><line x1="486.08" y1="267.1" x2="486.08" y2="268.8"/><line x1="494" y1="350.9" x2="494" y2="349.2"/><line x1="494" y1="267.1" x2="494" y2="268.8"/><line x1="501.92" y1="350.9" x2="501.92" y2="349.2"/><line x1="501.92" y1="267.1" x2="501.92" y2="268.8"/><line x1="509.85" y1="350.9" x2="509.85" y2="349.2"/><line x1="509.85" y1="267.1" x2="509.85" y2="268.8"/><line x1="517.77" y1="350.9" x2="517.77" y2="349.2"/><line x1="517.77" y1="267.1" x2="517.77" y2="268.8"/><line x1="525.69" y1="350.9" x2="525.69" y2="349.2"/><line x1="525.69" y1="267.1" x2="525.69" y2="268.8"/><line x1="533.62" y1="350.9" x2="533.62" y2="349.2"/><line x1="533.62" y1="267.1" x2="533.62" y2="268.8"/><line x1="541.54" y1="350.9" x2="541.54" y2="349.2"/><line x1="541.54" y1="267.1" x2="541.54" y2="268.8"/></g><line x1="446.46" y1="328.6" x2="446.46" y2="330.9" stroke="#000" stroke-dasharray="1.8 2.2" stroke-width="0.8"/><rect x="444.46" y="317.2" width="4" height="11.4" rx="0.8" fill="none" stroke="#0000ff" stroke-width="0.7"/><line x1="444.86" y1="321.4" x2="448.06" y2="321.4" stroke="#ff0000" stroke-width="1"/><line x1="445.56" y1="317.2" x2="447.36" y2="317.2" stroke="#111" stroke-width="0.8"/><line x1="445.56" y1="330.9" x2="447.36" y2="330.9" stroke="#111" stroke-width="0.8"/><line x1="454.38" y1="293.2" x2="454.38" y2="292.3" stroke="#000" stroke-dasharray="1.8 2.2" stroke-width="0.8"/><line x1="454.38" y1="297.5" x2="454.38" y2="298.9" stroke="#000" stroke-dasharray="1.8 2.2" stroke-width="0.8"/><rect x="452.38" y="293.2" width="4" height="4.3" rx="0.8" fill="none" stroke="#0000ff" stroke-width="0.7"/><line x1="452.78" y1="295" x2="455.98" y2="295" stroke="#ff0000" stroke-width="1"/><line x1="453.48" y1="292.3" x2="455.28" y2="292.3" stroke="#111" stroke-width="0.8"/><line x1="453.48" y1="298.9" x2="455.28" y2="298.9" stroke="#111" stroke-width="0.8"/><line x1="462.31" y1="305.1" x2="462.31" y2="304.2" stroke="#000" stroke-dasharray="1.8 2.2" stroke-width="0.8"/><line x1="462.31" y1="313.6" x2="462.31" y2="314.5" stroke="#000" stroke-dasharray="1.8 2.2" stroke-width="0.8"/><rect x="460.31" y="305.1" width="4" height="8.5" rx="0.8" fill="none" stroke="#0000ff" stroke-width="0.7"/><line x1="460.71" y1="309" x2="463.91" y2="309" stroke="#ff0000" stroke-width="1"/><line x1="461.41" y1="304.2" x2="463.21" y2="304.2" stroke="#111" stroke-width="0.8"/><line x1="461.41" y1="314.5" x2="463.21" y2="314.5" stroke="#111" stroke-width="0.8"/><line x1="470.23" y1="284.3" x2="470.23" y2="283.6" stroke="#000" stroke-dasharray="1.8 2.2" stroke-width="0.8"/><rect x="468.23" y="284.3" width="4" height="6.8" rx="0.8" fill="none" stroke="#0000ff" stroke-width="0.7"/><line x1="468.63" y1="286.1" x2="471.83" y2="286.1" stroke="#ff0000" stroke-width="1"/><line x1="469.33" y1="283.6" x2="471.13" y2="283.6" stroke="#111" stroke-width="0.8"/><line x1="469.33" y1="291.1" x2="471.13" y2="291.1" stroke="#111" stroke-width="0.8"/><rect x="469.23" y="294.2" width="2" height="1.6" fill="#333"/><line x1="478.15" y1="321.4" x2="478.15" y2="322.7" stroke="#000" stroke-dasharray="1.8 2.2" stroke-width="0.8"/><rect x="476.15" y="315.3" width="4" height="6.1" rx="0.8" fill="none" stroke="#0000ff" stroke-width="0.7"/><line x1="476.55" y1="317.9" x2="479.75" y2="317.9" stroke="#ff0000" stroke-width="1"/><line x1="477.25" y1="315.3" x2="479.05" y2="315.3" stroke="#111" stroke-width="0.8"/><line x1="477.25" y1="322.7" x2="479.05" y2="322.7" stroke="#111" stroke-width="0.8"/><line x1="486.08" y1="306.7" x2="486.08" y2="308.4" stroke="#000" stroke-dasharray="1.8 2.2" stroke-width="0.8"/><rect x="484.08" y="303.2" width="4" height="3.5" rx="0.8" fill="none" stroke="#0000ff" stroke-width="0.7"/><line x1="484.48" y1="304.9" x2="487.68" y2="304.9" stroke="#ff0000" stroke-width="1"/><line x1="485.18" y1="303.2" x2="486.98" y2="303.2" stroke="#111" stroke-width="0.8"/><line x1="485.18" y1="308.4" x2="486.98" y2="308.4" stroke="#111" stroke-width="0.8"/><line x1="494" y1="297.9" x2="494" y2="299.2" stroke="#000" stroke-dasharray="1.8 2.2" stroke-width="0.8"/><rect x="492" y="293.5" width="4" height="4.4" rx="0.8" fill="none" stroke="#0000ff" stroke-width="0.7"/><line x1="492.4" y1="295" x2="495.6" y2="295" stroke="#ff0000" stroke-width="1"/><line x1="493.1" y1="293.5" x2="494.9" y2="293.5" stroke="#111" stroke-width="0.8"/><line x1="493.1" y1="299.2" x2="494.9" y2="299.2" stroke="#111" stroke-width="0.8"/><rect x="499.92" y="301.5" width="4" height="7.1" rx="0.8" fill="none" stroke="#0000ff" stroke-width="0.7"/><line x1="500.32" y1="303.7" x2="503.52" y2="303.7" stroke="#ff0000" stroke-width="1"/><line x1="501.02" y1="301.5" x2="502.82" y2="301.5" stroke="#111" stroke-width="0.8"/><line x1="501.02" y1="308.6" x2="502.82" y2="308.6" stroke="#111" stroke-width="0.8"/><rect x="500.92" y="310" width="2" height="1.6" fill="#333"/><rect x="507.35" y="310.2" width="5" height="2" rx="1" fill="#0000ff"/><line x1="508.35" y1="311.2" x2="511.35" y2="311.2" stroke="#ff0000" stroke-width="1"/><line x1="517.77" y1="271.5" x2="517.77" y2="271" stroke="#000" stroke-dasharray="1.8 2.2" stroke-width="0.8"/><line x1="517.77" y1="279.6" x2="517.77" y2="281.7" stroke="#000" stroke-dasharray="1.8 2.2" stroke-width="0.8"/><rect x="515.77" y="271.5" width="4" height="8.1" rx="0.8" fill="none" stroke="#0000ff" stroke-width="0.7"/><line x1="516.17" y1="273.2" x2="519.37" y2="273.2" stroke="#ff0000" stroke-width="1"/><line x1="516.87" y1="271" x2="518.67" y2="271" stroke="#111" stroke-width="0.8"/><line x1="516.87" y1="281.7" x2="518.67" y2="281.7" stroke="#111" stroke-width="0.8"/><rect x="516.77" y="285.1" width="2" height="1.6" fill="#333"/><line x1="525.69" y1="293.3" x2="525.69" y2="291.3" stroke="#000" stroke-dasharray="1.8 2.2" stroke-width="0.8"/><line x1="525.69" y1="298.5" x2="525.69" y2="300.2" stroke="#000" stroke-dasharray="1.8 2.2" stroke-width="0.8"/><rect x="523.69" y="293.3" width="4" height="5.2" rx="0.8" fill="none" stroke="#0000ff" stroke-width="0.7"/><line x1="524.09" y1="295.9" x2="527.29" y2="295.9" stroke="#ff0000" stroke-width="1"/><line x1="524.79" y1="291.3" x2="526.59" y2="291.3" stroke="#111" stroke-width="0.8"/><line x1="524.79" y1="300.2" x2="526.59" y2="300.2" stroke="#111" stroke-width="0.8"/><line x1="533.62" y1="276.4" x2="533.62" y2="278.2" stroke="#000" stroke-dasharray="1.8 2.2" stroke-width="0.8"/><rect x="531.62" y="272" width="4" height="4.4" rx="0.8" fill="none" stroke="#0000ff" stroke-width="0.7"/><line x1="532.02" y1="273.9" x2="535.22" y2="273.9" stroke="#ff0000" stroke-width="1"/><line x1="532.72" y1="272" x2="534.52" y2="272" stroke="#111" stroke-width="0.8"/><line x1="532.72" y1="278.2" x2="534.52" y2="278.2" stroke="#111" stroke-width="0.8"/><line x1="539.54" y1="278" x2="543.54" y2="278" stroke="#a8185e" stroke-width="1.3"/></g><text x="20.9" y="35" text-anchor="end" font-size="6.4">10<tspan dx="0.5" dy="-2.8" font-size="5">5</tspan></text><text transform="translate(28.5,96.5) rotate(-90)" text-anchor="end" font-size="6.4">LOA</text><text transform="translate(36.5,96.5) rotate(-90)" text-anchor="end" font-size="6.4">WSO</text><text transform="translate(44.5,96.5) rotate(-90)" text-anchor="end" font-size="6.4">AVOA</text><text transform="translate(52.5,96.5) rotate(-90)" text-anchor="end" font-size="6.4">RSA</text><text transform="translate(60.5,96.5) rotate(-90)" text-anchor="end" font-size="6.4">MPA</text><text transform="translate(68.5,96.5) rotate(-90)" text-anchor="end" font-size="6.4">TSA</text><text transform="translate(76.5,96.5) rotate(-90)" text-anchor="end" font-size="6.4">WOA</text><text transform="translate(84.5,96.5) rotate(-90)" text-anchor="end" font-size="6.4">MVO</text><text transform="translate(92.5,96.5) rotate(-90)" text-anchor="end" font-size="6.4">GWO</text><text transform="translate(100.5,96.5) rotate(-90)" text-anchor="end" font-size="6.4">TLBO</text><text transform="translate(108.5,96.5) rotate(-90)" text-anchor="end" font-size="6.4">GSA</text><text transform="translate(116.5,96.5) rotate(-90)" text-anchor="end" font-size="6.4">PSO</text><text transform="translate(124.5,96.5) rotate(-90)" text-anchor="end" font-size="6.4">GA</text><text x="74.5" y="9.8" text-anchor="middle" font-size="7.0" font-weight="bold">C11-F13</text><text x="74.5" y="120.8" text-anchor="middle" font-size="7.15">algorithm</text><text transform="translate(9.8,53.4) rotate(-90)" text-anchor="middle" font-size="7.15">objective function</text><text x="160.9" y="58.8" text-anchor="end" font-size="6.4">10<tspan dx="0.5" dy="-2.8" font-size="5">5</tspan></text><text transform="translate(168.5,96.5) rotate(-90)" text-anchor="end" font-size="6.4">LOA</text><text transform="translate(176.5,96.5) rotate(-90)" text-anchor="end" font-size="6.4">WSO</text><text transform="translate(184.5,96.5) rotate(-90)" text-anchor="end" font-size="6.4">AVOA</text><text transform="translate(192.5,96.5) rotate(-90)" text-anchor="end" font-size="6.4">RSA</text><text transform="translate(200.5,96.5) rotate(-90)" text-anchor="end" font-size="6.4">MPA</text><text transform="translate(208.5,96.5) rotate(-90)" text-anchor="end" font-size="6.4">TSA</text><text transform="translate(216.5,96.5) rotate(-90)" text-anchor="end" font-size="6.4">WOA</text><text transform="translate(224.5,96.5) rotate(-90)" text-anchor="end" font-size="6.4">MVO</text><text transform="translate(232.5,96.5) rotate(-90)" text-anchor="end" font-size="6.4">GWO</text><text transform="translate(240.5,96.5) rotate(-90)" text-anchor="end" font-size="6.4">TLBO</text><text transform="translate(248.5,96.5) rotate(-90)" text-anchor="end" font-size="6.4">GSA</text><text transform="translate(256.5,96.5) rotate(-90)" text-anchor="end" font-size="6.4">PSO</text><text transform="translate(264.5,96.5) rotate(-90)" text-anchor="end" font-size="6.4">GA</text><text x="214.5" y="9.8" text-anchor="middle" font-size="7.0" font-weight="bold">C11-F14</text><text x="214.5" y="120.8" text-anchor="middle" font-size="7.15">algorithm</text><text transform="translate(149.8,53.4) rotate(-90)" text-anchor="middle" font-size="7.15">objective function</text><text x="300.9" y="28.2" text-anchor="end" font-size="6.4">10<tspan dx="0.5" dy="-2.8" font-size="5">7</tspan></text><text x="300.9" y="56.5" text-anchor="end" font-size="6.4">10<tspan dx="0.5" dy="-2.8" font-size="5">6</tspan></text><text x="300.9" y="84.8" text-anchor="end" font-size="6.4">10<tspan dx="0.5" dy="-2.8" font-size="5">5</tspan></text><text transform="translate(308.5,96.5) rotate(-90)" text-anchor="end" font-size="6.4">LOA</text><text transform="translate(316.5,96.5) rotate(-90)" text-anchor="end" font-size="6.4">WSO</text><text transform="translate(324.5,96.5) rotate(-90)" text-anchor="end" font-size="6.4">AVOA</text><text transform="translate(332.5,96.5) rotate(-90)" text-anchor="end" font-size="6.4">RSA</text><text transform="translate(340.5,96.5) rotate(-90)" text-anchor="end" font-size="6.4">MPA</text><text transform="translate(348.5,96.5) rotate(-90)" text-anchor="end" font-size="6.4">TSA</text><text transform="translate(356.5,96.5) rotate(-90)" text-anchor="end" font-size="6.4">WOA</text><text transform="translate(364.5,96.5) rotate(-90)" text-anchor="end" font-size="6.4">MVO</text><text transform="translate(372.5,96.5) rotate(-90)" text-anchor="end" font-size="6.4">GWO</text><text transform="translate(380.5,96.5) rotate(-90)" text-anchor="end" font-size="6.4">TLBO</text><text transform="translate(388.5,96.5) rotate(-90)" text-anchor="end" font-size="6.4">GSA</text><text transform="translate(396.5,96.5) rotate(-90)" text-anchor="end" font-size="6.4">PSO</text><text transform="translate(404.5,96.5) rotate(-90)" text-anchor="end" font-size="6.4">GA</text><text x="354.5" y="9.8" text-anchor="middle" font-size="7.0" font-weight="bold">C11-F15</text><text x="354.5" y="120.8" text-anchor="middle" font-size="7.15">algorithm</text><text transform="translate(289.8,53.4) rotate(-90)" text-anchor="middle" font-size="7.15">objective function</text><text x="440.9" y="14.6" text-anchor="end" font-size="6.4">10<tspan dx="0.5" dy="-2.8" font-size="5">8</tspan></text><text x="440.9" y="43.7" text-anchor="end" font-size="6.4">10<tspan dx="0.5" dy="-2.8" font-size="5">7</tspan></text><text x="440.9" y="72.8" text-anchor="end" font-size="6.4">10<tspan dx="0.5" dy="-2.8" font-size="5">6</tspan></text><text transform="translate(448.46,96.5) rotate(-90)" text-anchor="end" font-size="6.4">LOA</text><text transform="translate(456.38,96.5) rotate(-90)" text-anchor="end" font-size="6.4">WSO</text><text transform="translate(464.31,96.5) rotate(-90)" text-anchor="end" font-size="6.4">AVOA</text><text transform="translate(472.23,96.5) rotate(-90)" text-anchor="end" font-size="6.4">RSA</text><text transform="translate(480.15,96.5) rotate(-90)" text-anchor="end" font-size="6.4">MPA</text><text transform="translate(488.08,96.5) rotate(-90)" text-anchor="end" font-size="6.4">TSA</text><text transform="translate(496,96.5) rotate(-90)" text-anchor="end" font-size="6.4">WOA</text><text transform="translate(503.92,96.5) rotate(-90)" text-anchor="end" font-size="6.4">MVO</text><text transform="translate(511.85,96.5) rotate(-90)" text-anchor="end" font-size="6.4">GWO</text><text transform="translate(519.77,96.5) rotate(-90)" text-anchor="end" font-size="6.4">TLBO</text><text transform="translate(527.69,96.5) rotate(-90)" text-anchor="end" font-size="6.4">GSA</text><text transform="translate(535.62,96.5) rotate(-90)" text-anchor="end" font-size="6.4">PSO</text><text transform="translate(543.54,96.5) rotate(-90)" text-anchor="end" font-size="6.4">GA</text><text x="494" y="9.8" text-anchor="middle" font-size="7.0" font-weight="bold">C11-F16</text><text x="494" y="120.8" text-anchor="middle" font-size="7.15">algorithm</text><text transform="translate(429.8,53.4) rotate(-90)" text-anchor="middle" font-size="7.15">objective function</text><text x="23.2" y="150.9" text-anchor="end" font-size="6.4">10<tspan dx="-0.1" dy="-2.8" font-size="5">10</tspan></text><text x="22.9" y="192.7" text-anchor="end" font-size="6.4">10<tspan dx="0.5" dy="-2.8" font-size="5">8</tspan></text><text transform="translate(30.42,224.5) rotate(-90)" text-anchor="end" font-size="6.4">LOA</text><text transform="translate(38.27,224.5) rotate(-90)" text-anchor="end" font-size="6.4">WSO</text><text transform="translate(46.12,224.5) rotate(-90)" text-anchor="end" font-size="6.4">AVOA</text><text transform="translate(53.96,224.5) rotate(-90)" text-anchor="end" font-size="6.4">RSA</text><text transform="translate(61.81,224.5) rotate(-90)" text-anchor="end" font-size="6.4">MPA</text><text transform="translate(69.65,224.5) rotate(-90)" text-anchor="end" font-size="6.4">TSA</text><text transform="translate(77.5,224.5) rotate(-90)" text-anchor="end" font-size="6.4">WOA</text><text transform="translate(85.35,224.5) rotate(-90)" text-anchor="end" font-size="6.4">MVO</text><text transform="translate(93.19,224.5) rotate(-90)" text-anchor="end" font-size="6.4">GWO</text><text transform="translate(101.04,224.5) rotate(-90)" text-anchor="end" font-size="6.4">TLBO</text><text transform="translate(108.88,224.5) rotate(-90)" text-anchor="end" font-size="6.4">GSA</text><text transform="translate(116.73,224.5) rotate(-90)" text-anchor="end" font-size="6.4">PSO</text><text transform="translate(124.58,224.5) rotate(-90)" text-anchor="end" font-size="6.4">GA</text><text x="75.5" y="137.8" text-anchor="middle" font-size="7.0" font-weight="bold">C11-F17</text><text x="75.5" y="248.8" text-anchor="middle" font-size="7.15">algorithm</text><text transform="translate(9.8,181.4) rotate(-90)" text-anchor="middle" font-size="7.15">objective function</text><text x="160.9" y="150.65" text-anchor="end" font-size="6.4">10<tspan dx="0.5" dy="-2.8" font-size="5">8</tspan></text><text x="160.9" y="187.9" text-anchor="end" font-size="6.4">10<tspan dx="0.5" dy="-2.8" font-size="5">7</tspan></text><text x="160.9" y="225.15" text-anchor="end" font-size="6.4">10<tspan dx="0.5" dy="-2.8" font-size="5">6</tspan></text><text transform="translate(168.5,224.5) rotate(-90)" text-anchor="end" font-size="6.4">LOA</text><text transform="translate(176.5,224.5) rotate(-90)" text-anchor="end" font-size="6.4">WSO</text><text transform="translate(184.5,224.5) rotate(-90)" text-anchor="end" font-size="6.4">AVOA</text><text transform="translate(192.5,224.5) rotate(-90)" text-anchor="end" font-size="6.4">RSA</text><text transform="translate(200.5,224.5) rotate(-90)" text-anchor="end" font-size="6.4">MPA</text><text transform="translate(208.5,224.5) rotate(-90)" text-anchor="end" font-size="6.4">TSA</text><text transform="translate(216.5,224.5) rotate(-90)" text-anchor="end" font-size="6.4">WOA</text><text transform="translate(224.5,224.5) rotate(-90)" text-anchor="end" font-size="6.4">MVO</text><text transform="translate(232.5,224.5) rotate(-90)" text-anchor="end" font-size="6.4">GWO</text><text transform="translate(240.5,224.5) rotate(-90)" text-anchor="end" font-size="6.4">TLBO</text><text transform="translate(248.5,224.5) rotate(-90)" text-anchor="end" font-size="6.4">GSA</text><text transform="translate(256.5,224.5) rotate(-90)" text-anchor="end" font-size="6.4">PSO</text><text transform="translate(264.5,224.5) rotate(-90)" text-anchor="end" font-size="6.4">GA</text><text x="214.5" y="137.8" text-anchor="middle" font-size="7.0" font-weight="bold">C11-F18</text><text x="214.5" y="248.8" text-anchor="middle" font-size="7.15">algorithm</text><text transform="translate(149.8,181.4) rotate(-90)" text-anchor="middle" font-size="7.15">objective function</text><text x="300.9" y="153.7" text-anchor="end" font-size="6.4">10<tspan dx="0.5" dy="-2.8" font-size="5">8</tspan></text><text x="300.9" y="189.7" text-anchor="end" font-size="6.4">10<tspan dx="0.5" dy="-2.8" font-size="5">7</tspan></text><text x="300.9" y="225.7" text-anchor="end" font-size="6.4">10<tspan dx="0.5" dy="-2.8" font-size="5">6</tspan></text><text transform="translate(308.5,224.5) rotate(-90)" text-anchor="end" font-size="6.4">LOA</text><text transform="translate(316.5,224.5) rotate(-90)" text-anchor="end" font-size="6.4">WSO</text><text transform="translate(324.5,224.5) rotate(-90)" text-anchor="end" font-size="6.4">AVOA</text><text transform="translate(332.5,224.5) rotate(-90)" text-anchor="end" font-size="6.4">RSA</text><text transform="translate(340.5,224.5) rotate(-90)" text-anchor="end" font-size="6.4">MPA</text><text transform="translate(348.5,224.5) rotate(-90)" text-anchor="end" font-size="6.4">TSA</text><text transform="translate(356.5,224.5) rotate(-90)" text-anchor="end" font-size="6.4">WOA</text><text transform="translate(364.5,224.5) rotate(-90)" text-anchor="end" font-size="6.4">MVO</text><text transform="translate(372.5,224.5) rotate(-90)" text-anchor="end" font-size="6.4">GWO</text><text transform="translate(380.5,224.5) rotate(-90)" text-anchor="end" font-size="6.4">TLBO</text><text transform="translate(388.5,224.5) rotate(-90)" text-anchor="end" font-size="6.4">GSA</text><text transform="translate(396.5,224.5) rotate(-90)" text-anchor="end" font-size="6.4">PSO</text><text transform="translate(404.5,224.5) rotate(-90)" text-anchor="end" font-size="6.4">GA</text><text x="354.5" y="137.8" text-anchor="middle" font-size="7.0" font-weight="bold">C11-F19</text><text x="354.5" y="248.8" text-anchor="middle" font-size="7.15">algorithm</text><text transform="translate(289.8,181.4) rotate(-90)" text-anchor="middle" font-size="7.15">objective function</text><text x="440.9" y="153" text-anchor="end" font-size="6.4">10<tspan dx="0.5" dy="-2.8" font-size="5">8</tspan></text><text x="440.9" y="189.3" text-anchor="end" font-size="6.4">10<tspan dx="0.5" dy="-2.8" font-size="5">7</tspan></text><text x="440.9" y="225.6" text-anchor="end" font-size="6.4">10<tspan dx="0.5" dy="-2.8" font-size="5">6</tspan></text><text transform="translate(448.46,224.5) rotate(-90)" text-anchor="end" font-size="6.4">LOA</text><text transform="translate(456.38,224.5) rotate(-90)" text-anchor="end" font-size="6.4">WSO</text><text transform="translate(464.31,224.5) rotate(-90)" text-anchor="end" font-size="6.4">AVOA</text><text transform="translate(472.23,224.5) rotate(-90)" text-anchor="end" font-size="6.4">RSA</text><text transform="translate(480.15,224.5) rotate(-90)" text-anchor="end" font-size="6.4">MPA</text><text transform="translate(488.08,224.5) rotate(-90)" text-anchor="end" font-size="6.4">TSA</text><text transform="translate(496,224.5) rotate(-90)" text-anchor="end" font-size="6.4">WOA</text><text transform="translate(503.92,224.5) rotate(-90)" text-anchor="end" font-size="6.4">MVO</text><text transform="translate(511.85,224.5) rotate(-90)" text-anchor="end" font-size="6.4">GWO</text><text transform="translate(519.77,224.5) rotate(-90)" text-anchor="end" font-size="6.4">TLBO</text><text transform="translate(527.69,224.5) rotate(-90)" text-anchor="end" font-size="6.4">GSA</text><text transform="translate(535.62,224.5) rotate(-90)" text-anchor="end" font-size="6.4">PSO</text><text transform="translate(543.54,224.5) rotate(-90)" text-anchor="end" font-size="6.4">GA</text><text x="494" y="137.8" text-anchor="middle" font-size="7.0" font-weight="bold">C11-F20</text><text x="494" y="248.8" text-anchor="middle" font-size="7.15">algorithm</text><text transform="translate(429.8,181.4) rotate(-90)" text-anchor="middle" font-size="7.15">objective function</text><text x="20.9" y="279.4" text-anchor="end" font-size="6.4">10<tspan dx="0.5" dy="-2.8" font-size="5">2</tspan></text><text x="20.9" y="329" text-anchor="end" font-size="6.4">10<tspan dx="0.5" dy="-2.8" font-size="5">1</tspan></text><text transform="translate(28.5,352.5) rotate(-90)" text-anchor="end" font-size="6.4">LOA</text><text transform="translate(36.5,352.5) rotate(-90)" text-anchor="end" font-size="6.4">WSO</text><text transform="translate(44.5,352.5) rotate(-90)" text-anchor="end" font-size="6.4">AVOA</text><text transform="translate(52.5,352.5) rotate(-90)" text-anchor="end" font-size="6.4">RSA</text><text transform="translate(60.5,352.5) rotate(-90)" text-anchor="end" font-size="6.4">MPA</text><text transform="translate(68.5,352.5) rotate(-90)" text-anchor="end" font-size="6.4">TSA</text><text transform="translate(76.5,352.5) rotate(-90)" text-anchor="end" font-size="6.4">WOA</text><text transform="translate(84.5,352.5) rotate(-90)" text-anchor="end" font-size="6.4">MVO</text><text transform="translate(92.5,352.5) rotate(-90)" text-anchor="end" font-size="6.4">GWO</text><text transform="translate(100.5,352.5) rotate(-90)" text-anchor="end" font-size="6.4">TLBO</text><text transform="translate(108.5,352.5) rotate(-90)" text-anchor="end" font-size="6.4">GSA</text><text transform="translate(116.5,352.5) rotate(-90)" text-anchor="end" font-size="6.4">PSO</text><text transform="translate(124.5,352.5) rotate(-90)" text-anchor="end" font-size="6.4">GA</text><text x="74.5" y="265.8" text-anchor="middle" font-size="7.0" font-weight="bold">C11-F21</text><text x="74.5" y="376.8" text-anchor="middle" font-size="7.15">algorithm</text><text transform="translate(9.8,309.4) rotate(-90)" text-anchor="middle" font-size="7.15">objective function</text><text x="440.9" y="279.1" text-anchor="end" font-size="6.4">10<tspan dx="0.5" dy="-2.8" font-size="5">2</tspan></text><text x="440.9" y="337.9" text-anchor="end" font-size="6.4">10<tspan dx="0.5" dy="-2.8" font-size="5">1</tspan></text><text transform="translate(448.46,352.5) rotate(-90)" text-anchor="end" font-size="6.4">LOA</text><text transform="translate(456.38,352.5) rotate(-90)" text-anchor="end" font-size="6.4">WSO</text><text transform="translate(464.31,352.5) rotate(-90)" text-anchor="end" font-size="6.4">AVOA</text><text transform="translate(472.23,352.5) rotate(-90)" text-anchor="end" font-size="6.4">RSA</text><text transform="translate(480.15,352.5) rotate(-90)" text-anchor="end" font-size="6.4">MPA</text><text transform="translate(488.08,352.5) rotate(-90)" text-anchor="end" font-size="6.4">TSA</text><text transform="translate(496,352.5) rotate(-90)" text-anchor="end" font-size="6.4">WOA</text><text transform="translate(503.92,352.5) rotate(-90)" text-anchor="end" font-size="6.4">MVO</text><text transform="translate(511.85,352.5) rotate(-90)" text-anchor="end" font-size="6.4">GWO</text><text transform="translate(519.77,352.5) rotate(-90)" text-anchor="end" font-size="6.4">TLBO</text><text transform="translate(527.69,352.5) rotate(-90)" text-anchor="end" font-size="6.4">GSA</text><text transform="translate(535.62,352.5) rotate(-90)" text-anchor="end" font-size="6.4">PSO</text><text transform="translate(543.54,352.5) rotate(-90)" text-anchor="end" font-size="6.4">GA</text><text x="494" y="265.8" text-anchor="middle" font-size="7.0" font-weight="bold">C11-F22</text><text x="494" y="376.8" text-anchor="middle" font-size="7.15">algorithm</text><text transform="translate(429.8,309.4) rotate(-90)" text-anchor="middle" font-size="7.15">objective function</text></svg></div></body></html>
